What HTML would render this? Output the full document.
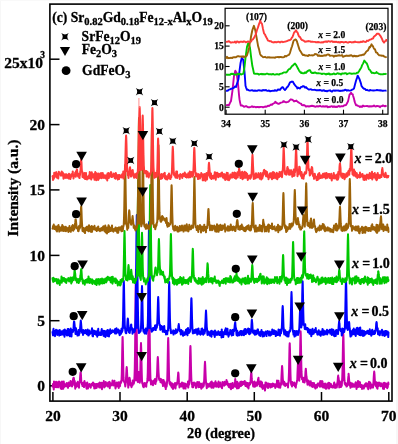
<!DOCTYPE html><html><head><meta charset="utf-8"><style>html,body{margin:0;padding:0;background:#fff;}body{width:398px;height:444px;overflow:hidden;}</style></head><body><svg width="398" height="444" viewBox="0 0 398 444" style="display:block">
<rect x="0" y="0" width="398" height="444" fill="#fff"/>
<rect x="0" y="0" width="1" height="444" fill="#f7f7f7"/><rect x="0" y="0" width="398" height="1" fill="#f9f9f9"/><rect x="396.5" y="0" width="1" height="444" fill="#f0f0f0"/>
<g stroke="#000" stroke-width="1.5">
<line x1="52.9" y1="401" x2="52.9" y2="392"/>
<line x1="120.0" y1="401" x2="120.0" y2="392"/>
<line x1="187.2" y1="401" x2="187.2" y2="392"/>
<line x1="254.3" y1="401" x2="254.3" y2="392"/>
<line x1="321.5" y1="401" x2="321.5" y2="392"/>
<line x1="388.8" y1="401" x2="388.8" y2="392"/>
<line x1="50" y1="385.8" x2="59.5" y2="385.8"/>
<line x1="50" y1="320.7" x2="59.5" y2="320.7"/>
<line x1="50" y1="255.4" x2="59.5" y2="255.4"/>
<line x1="50" y1="189.9" x2="59.5" y2="189.9"/>
<line x1="50" y1="124.6" x2="59.5" y2="124.6"/>
<line x1="50" y1="59.2" x2="59.5" y2="59.2"/>
</g>
<g stroke-width="2.0" stroke-linejoin="round" stroke-linecap="round">
<path fill="#c800aa" stroke="none" d="M72.75,381.2 73.00,379.5 73.25,378.5 73.50,377.8 73.75,377.8 74.00,379.1 74.25,381.2ZM79.75,381.2 80.00,379.3 80.25,375.3 80.50,372.9 80.60,372.3 80.75,372.6 81.00,375.7 81.25,381.2ZM121.25,381.2 121.50,380.6 121.75,374.9 122.00,364.2 122.25,349.0 122.50,338.2 122.60,336.9 122.75,339.8 123.00,352.6 123.25,366.6 123.50,377.4 123.75,380.9 124.00,381.2ZM125.75,381.2 126.00,378.8 126.25,373.6 126.50,368.8 126.70,367.1 126.75,367.2 127.00,370.7 127.25,376.1 127.50,379.1 127.75,381.2ZM129.00,381.2 129.25,379.2 129.50,377.7 129.75,378.7 130.00,380.1 130.25,381.2ZM134.00,381.2 134.25,380.3 134.50,376.2 134.75,369.1 135.00,355.0 135.25,332.9 135.50,305.1 135.75,280.3 136.00,269.9 136.25,280.4 136.50,305.4 136.75,333.1 137.00,355.1 137.25,369.9 137.50,378.0 137.75,381.2ZM138.00,381.2 138.25,378.9 138.50,375.8 138.75,371.9 138.90,372.1 139.00,372.6 139.25,374.4 139.50,379.3 139.75,381.2ZM139.75,381.2 140.00,380.9 140.25,373.6 140.50,361.8 140.75,348.9 141.00,343.0 141.25,349.2 141.50,361.4 141.75,373.0 142.00,381.2ZM147.25,381.2 147.50,378.7 147.75,373.1 148.00,359.9 148.25,337.8 148.50,308.3 148.75,280.2 149.00,268.0 149.25,280.1 149.50,308.3 149.75,337.9 150.00,360.0 150.25,372.2 150.50,379.5 150.75,381.2ZM156.75,375.6 157.00,375.2 157.25,368.7 157.50,361.5 157.75,357.4 157.80,357.0 158.00,358.9 158.25,365.1 158.50,371.9 158.75,375.1 159.00,375.2ZM167.00,381.2 167.25,379.3 167.50,369.7 167.75,355.6 168.00,342.4 168.20,338.0 168.25,338.3 168.50,347.3 168.75,361.5 169.00,373.5 169.25,380.8 169.50,381.2ZM177.50,381.2 177.75,378.4 178.00,375.6 178.25,372.4 178.30,373.0 178.50,373.5 178.75,378.7 179.00,381.2ZM189.00,381.2 189.25,381.0 189.50,378.5 189.75,369.9 190.00,358.3 190.25,348.0 190.40,346.0 190.50,346.6 190.75,355.7 191.00,367.9 191.25,376.2 191.50,381.2ZM204.00,381.2 204.25,378.9 204.50,372.3 204.75,365.3 205.00,361.8 205.25,365.7 205.50,372.5 205.75,378.5 206.00,381.2ZM235.00,381.2 235.20,380.1 235.25,379.1 235.50,381.2ZM250.50,381.2 250.75,378.2 251.00,374.2 251.25,372.7 251.30,372.4 251.50,373.6 251.75,378.7 252.00,381.2ZM257.75,381.2 258.00,379.5 258.25,379.2 258.30,378.3 258.50,377.7 258.75,381.2ZM281.25,381.2 281.50,376.2 281.75,371.4 282.00,366.7 282.10,366.0 282.25,367.4 282.50,372.3 282.75,378.1 283.00,381.0 283.25,381.2ZM288.50,381.2 288.75,377.8 289.00,371.6 289.25,358.8 289.50,347.0 289.70,343.2 289.75,343.4 290.00,350.9 290.25,364.2 290.50,374.5 290.75,381.0 291.00,381.2ZM297.25,379.4 297.50,372.9 297.75,367.3 298.00,362.1 298.10,361.5 298.25,362.1 298.50,367.4 298.75,374.6 299.00,377.5 299.25,378.1ZM299.25,378.1 299.50,377.7 299.75,371.3 300.00,359.6 300.25,343.9 300.50,332.4 300.60,331.3 300.75,333.7 301.00,347.2 301.25,361.5 301.50,371.9 301.75,375.9 302.00,377.2ZM305.00,377.7 305.25,375.6 305.50,371.4 305.75,369.3 305.80,368.7 306.00,370.6 306.25,374.5 306.50,377.0 306.75,378.1 307.00,378.8ZM337.50,381.2 337.75,380.1 338.00,376.6 338.20,375.6 338.25,377.0 338.50,377.5 338.75,379.4 339.00,381.2ZM342.00,381.2 342.25,377.6 342.50,369.7 342.75,356.8 343.00,342.3 343.25,334.4 343.30,334.0 343.50,338.1 343.75,351.0 344.00,364.8 344.25,375.7 344.50,380.7 344.75,381.2ZM347.75,381.2 348.00,380.6 348.25,377.7 348.50,375.4 348.60,373.8 348.75,375.3 349.00,378.3 349.25,381.2ZM373.50,381.2 373.75,376.8 374.00,373.6 374.20,371.6 374.25,372.5 374.50,374.4 374.75,379.1 375.00,381.2Z"/>
<polyline fill="none" stroke="#c800aa" points="52.50,386.5 52.75,386.0 53.00,384.0 53.25,384.3 53.50,386.7 53.75,389.5 54.00,381.5 54.25,386.7 54.50,385.0 54.75,386.7 55.00,386.9 55.25,385.3 55.50,383.3 55.75,382.6 56.00,381.7 56.25,387.2 56.50,384.6 56.75,383.9 57.00,384.4 57.25,382.4 57.50,385.4 57.75,387.2 58.00,386.8 58.25,382.0 58.50,387.3 58.75,383.5 59.00,381.5 59.25,382.7 59.50,383.3 59.75,385.0 60.00,383.2 60.25,382.4 60.50,384.6 60.75,388.6 61.00,383.8 61.25,385.9 61.50,385.1 61.75,388.9 62.00,381.5 62.25,386.8 62.50,382.5 62.75,383.8 63.00,384.7 63.25,388.8 63.50,383.5 63.75,381.5 64.00,387.3 64.25,383.5 64.50,384.6 64.75,385.0 65.00,385.2 65.25,384.7 65.50,385.5 65.75,385.7 66.00,386.5 66.25,384.2 66.50,383.6 66.75,383.0 67.00,385.9 67.25,384.7 67.50,385.8 67.75,385.7 68.00,387.8 68.25,385.1 68.50,386.1 68.75,382.6 69.00,382.9 69.25,384.3 69.50,382.7 69.75,386.1 70.00,382.5 70.25,385.0 70.50,381.0 70.75,383.0 71.00,384.3 71.25,384.4 71.50,381.7 71.75,385.0 72.00,386.4 72.25,385.6 72.50,383.0 72.75,382.0 73.00,379.5 73.25,378.5 73.50,377.8 73.75,377.8 74.00,379.1 74.25,383.0 74.50,385.1 74.75,381.1 75.00,385.1 75.25,388.7 75.50,386.4 75.75,386.0 76.00,385.7 76.25,386.9 76.50,383.3 76.75,383.5 77.00,385.7 77.25,383.8 77.50,385.5 77.75,381.7 78.00,386.4 78.25,386.5 78.50,385.1 78.75,385.3 79.00,387.7 79.25,383.0 79.50,382.8 79.75,381.4 80.00,379.3 80.25,375.3 80.50,372.9 80.60,372.3 80.75,372.6 81.00,375.7 81.25,381.2 81.50,382.8 81.75,383.7 82.00,384.6 82.25,384.5 82.50,386.0 82.75,385.7 83.00,383.7 83.25,383.2 83.50,382.7 83.75,382.4 84.00,387.1 84.25,383.0 84.50,381.0 84.75,383.0 85.00,383.1 85.25,385.1 85.50,382.9 85.75,385.5 86.00,385.2 86.25,386.8 86.50,388.4 86.75,388.6 87.00,387.1 87.25,382.6 87.50,384.0 87.75,385.2 88.00,388.4 88.25,386.0 88.50,386.9 88.75,384.4 89.00,385.8 89.25,386.0 89.50,383.9 89.75,386.1 90.00,386.6 90.25,384.4 90.50,386.5 90.75,387.7 91.00,384.9 91.25,384.8 91.50,384.3 91.75,383.8 92.00,385.3 92.25,384.3 92.50,384.6 92.75,383.8 93.00,382.5 93.25,383.7 93.50,386.0 93.75,383.3 94.00,384.3 94.25,388.4 94.50,387.4 94.75,384.2 95.00,386.5 95.25,384.2 95.50,388.3 95.75,384.3 96.00,385.5 96.25,387.9 96.50,383.9 96.75,387.7 97.00,383.9 97.25,385.8 97.50,384.8 97.75,385.2 98.00,385.6 98.25,385.1 98.50,383.4 98.75,386.7 99.00,386.4 99.25,387.4 99.50,387.5 99.75,382.6 100.00,387.3 100.25,387.3 100.50,384.1 100.75,386.9 101.00,387.7 101.25,384.2 101.50,382.7 101.75,384.6 102.00,389.2 102.25,385.7 102.50,383.1 102.75,384.8 103.00,383.4 103.25,384.4 103.50,385.3 103.75,381.1 104.00,385.6 104.25,387.4 104.50,384.5 104.75,384.1 105.00,386.6 105.25,382.4 105.50,382.3 105.75,382.0 106.00,384.2 106.25,385.2 106.50,384.3 106.75,385.4 107.00,385.9 107.25,385.3 107.50,382.9 107.75,383.9 108.00,386.6 108.25,382.4 108.50,383.9 108.75,383.5 109.00,383.9 109.25,382.3 109.50,381.8 109.75,388.2 110.00,385.9 110.25,383.0 110.50,384.2 110.75,385.5 111.00,383.7 111.25,385.4 111.50,383.2 111.75,383.7 112.00,384.3 112.25,383.6 112.50,380.5 112.75,384.6 113.00,385.0 113.25,385.4 113.50,382.9 113.75,385.3 114.00,385.0 114.25,381.5 114.50,380.8 114.75,385.5 115.00,383.0 115.25,386.4 115.50,388.4 115.75,383.6 116.00,383.3 116.25,384.5 116.50,385.7 116.75,382.4 117.00,386.5 117.25,386.1 117.50,385.4 117.75,383.3 118.00,385.9 118.25,385.7 118.50,382.2 118.75,387.9 119.00,383.8 119.25,384.9 119.50,383.4 119.75,385.0 120.00,386.2 120.25,383.0 120.50,381.6 120.75,383.4 121.00,382.0 121.25,382.1 121.50,380.6 121.75,374.9 122.00,364.2 122.25,349.0 122.50,338.2 122.60,336.9 122.75,339.8 123.00,352.6 123.25,366.6 123.50,377.4 123.75,380.9 124.00,381.3 124.25,382.2 124.50,382.0 124.75,383.1 125.00,384.3 125.25,386.5 125.50,385.1 125.75,383.0 126.00,378.8 126.25,373.6 126.50,368.8 126.70,367.1 126.75,367.2 127.00,370.7 127.25,376.1 127.50,379.1 127.75,382.0 128.00,383.3 128.25,387.6 128.50,383.8 128.75,383.9 129.00,382.5 129.25,379.2 129.50,377.7 129.75,378.7 130.00,380.1 130.25,383.2 130.50,385.5 130.75,385.2 131.00,385.4 131.25,385.2 131.50,387.2 131.75,382.9 132.00,384.1 132.25,384.8 132.50,385.5 132.75,380.4 133.00,382.8 133.25,383.1 133.50,381.9 133.75,383.8 134.00,382.4 134.25,380.3 134.50,376.2 134.75,369.1 135.00,355.0 135.25,332.9 135.50,305.1 135.75,280.3 136.00,269.9 136.25,280.4 136.50,305.4 136.75,333.1 137.00,355.1 137.25,369.9 137.50,378.0 137.75,381.8 138.00,382.1 138.25,378.9 138.50,375.8 138.75,371.9 138.90,372.1 139.00,372.6 139.25,374.4 139.50,379.3 139.75,382.8 140.00,380.9 140.25,373.6 140.50,361.8 140.75,348.9 141.00,343.0 141.25,349.2 141.50,361.4 141.75,373.0 142.00,381.2 142.25,383.3 142.50,382.4 142.75,384.3 143.00,386.0 143.25,384.8 143.50,387.1 143.75,387.3 144.00,384.1 144.25,384.2 144.50,384.8 144.75,383.0 145.00,385.5 145.25,384.5 145.50,385.9 145.75,383.7 146.00,383.2 146.25,386.8 146.50,382.9 146.75,383.0 147.00,382.3 147.25,381.7 147.50,378.7 147.75,373.1 148.00,359.9 148.25,337.8 148.50,308.3 148.75,280.2 149.00,268.0 149.25,280.1 149.50,308.3 149.75,337.9 150.00,360.0 150.25,372.2 150.50,379.5 150.75,381.4 151.00,384.5 151.25,383.6 151.50,381.4 151.75,380.9 152.00,384.3 152.25,381.2 152.50,383.3 152.75,381.7 153.00,385.2 153.25,381.8 153.50,383.9 153.75,383.4 154.00,380.3 154.25,380.3 154.50,383.1 154.75,380.5 155.00,378.9 155.25,382.3 155.50,383.9 155.75,379.9 156.00,382.0 156.25,379.2 156.50,380.8 156.75,377.2 157.00,375.2 157.25,368.7 157.50,361.5 157.75,357.4 157.80,357.0 158.00,358.9 158.25,365.1 158.50,371.9 158.75,375.1 159.00,378.8 159.25,379.8 159.50,380.1 159.75,378.7 160.00,379.7 160.25,379.7 160.50,382.2 160.75,378.7 161.00,379.6 161.25,380.1 161.50,380.5 161.75,379.7 162.00,380.2 162.25,383.4 162.50,380.8 162.75,383.8 163.00,386.1 163.25,385.0 163.50,379.9 163.75,384.7 164.00,384.5 164.25,384.9 164.50,381.5 164.75,385.9 165.00,383.0 165.25,387.3 165.50,387.1 165.75,389.1 166.00,385.1 166.25,383.2 166.50,386.7 166.75,385.7 167.00,382.4 167.25,379.3 167.50,369.7 167.75,355.6 168.00,342.4 168.20,338.0 168.25,338.3 168.50,347.3 168.75,361.5 169.00,373.5 169.25,380.8 169.50,383.1 169.75,383.9 170.00,384.3 170.25,384.9 170.50,382.2 170.75,385.7 171.00,383.9 171.25,385.9 171.50,383.3 171.75,387.5 172.00,386.3 172.25,383.6 172.50,386.3 172.75,384.5 173.00,388.9 173.25,386.6 173.50,384.2 173.75,385.9 174.00,385.3 174.25,387.4 174.50,385.8 174.75,386.0 175.00,383.0 175.25,386.3 175.50,388.5 175.75,385.9 176.00,384.7 176.25,385.0 176.50,383.0 176.75,384.8 177.00,382.6 177.25,383.7 177.50,381.6 177.75,378.4 178.00,375.6 178.25,372.4 178.30,373.0 178.50,373.5 178.75,378.7 179.00,382.9 179.25,384.5 179.50,387.4 179.75,386.0 180.00,386.1 180.25,384.5 180.50,383.8 180.75,385.6 181.00,384.4 181.25,384.6 181.50,386.6 181.75,385.1 182.00,382.5 182.25,384.8 182.50,383.8 182.75,384.6 183.00,383.2 183.25,387.3 183.50,388.6 183.75,383.3 184.00,386.5 184.25,386.5 184.50,383.6 184.75,385.8 185.00,388.2 185.25,387.2 185.50,388.6 185.75,383.7 186.00,384.5 186.25,386.3 186.50,386.3 186.75,385.7 187.00,384.9 187.25,384.8 187.50,384.3 187.75,386.0 188.00,381.4 188.25,387.6 188.50,384.1 188.75,382.5 189.00,384.8 189.25,381.0 189.50,378.5 189.75,369.9 190.00,358.3 190.25,348.0 190.40,346.0 190.50,346.6 190.75,355.7 191.00,367.9 191.25,376.2 191.50,382.6 191.75,384.2 192.00,382.8 192.25,386.9 192.50,387.3 192.75,383.0 193.00,386.1 193.25,387.2 193.50,386.5 193.75,383.3 194.00,382.5 194.25,384.6 194.50,383.8 194.75,384.6 195.00,384.3 195.25,385.3 195.50,383.3 195.75,383.9 196.00,388.0 196.25,383.8 196.50,385.2 196.75,384.3 197.00,384.1 197.25,382.0 197.50,384.5 197.75,383.4 198.00,385.0 198.25,387.2 198.50,384.0 198.75,385.1 199.00,382.1 199.25,384.3 199.50,387.0 199.75,384.3 200.00,383.5 200.25,385.1 200.50,384.6 200.75,384.6 201.00,384.5 201.25,388.7 201.50,383.8 201.75,384.6 202.00,384.4 202.25,387.5 202.50,384.8 202.75,387.4 203.00,385.5 203.25,385.1 203.50,382.6 203.75,385.9 204.00,383.1 204.25,378.9 204.50,372.3 204.75,365.3 205.00,361.8 205.25,365.7 205.50,372.5 205.75,378.5 206.00,382.1 206.25,384.7 206.50,385.2 206.75,388.2 207.00,386.9 207.25,384.7 207.50,383.8 207.75,385.3 208.00,384.1 208.25,385.7 208.50,386.2 208.75,386.6 209.00,386.1 209.25,385.0 209.50,386.3 209.75,383.6 210.00,384.9 210.25,386.4 210.50,385.4 210.75,382.5 211.00,382.6 211.25,381.7 211.50,387.7 211.75,381.6 212.00,384.0 212.25,387.4 212.50,386.0 212.75,386.4 213.00,383.0 213.25,385.2 213.50,387.8 213.75,383.7 214.00,384.5 214.25,383.2 214.50,383.7 214.75,384.4 215.00,386.3 215.25,382.2 215.50,381.3 215.75,384.0 216.00,384.4 216.25,386.7 216.50,385.5 216.75,383.2 217.00,385.4 217.25,386.5 217.50,385.1 217.75,384.1 218.00,386.0 218.25,384.2 218.50,381.5 218.75,387.3 219.00,382.6 219.25,384.4 219.50,384.5 219.75,384.5 220.00,384.6 220.25,382.6 220.50,386.1 220.75,385.2 221.00,385.2 221.25,387.1 221.50,387.1 221.75,387.5 222.00,388.3 222.25,385.8 222.50,382.1 222.75,385.2 223.00,384.7 223.25,384.7 223.50,383.3 223.75,382.7 224.00,385.5 224.25,385.7 224.50,381.8 224.75,384.7 225.00,383.3 225.25,382.8 225.50,384.7 225.75,383.3 226.00,382.4 226.25,383.6 226.50,380.0 226.75,382.7 227.00,383.1 227.25,381.6 227.50,384.6 227.75,385.0 228.00,383.6 228.25,384.6 228.50,386.2 228.75,387.1 229.00,384.0 229.25,386.0 229.50,387.4 229.75,385.5 230.00,384.2 230.25,384.3 230.50,385.1 230.75,383.8 231.00,389.2 231.25,384.5 231.50,386.2 231.75,385.8 232.00,386.6 232.25,384.7 232.50,383.0 232.75,388.1 233.00,385.0 233.25,385.3 233.50,385.3 233.75,387.1 234.00,386.0 234.25,386.1 234.50,384.6 234.75,382.5 235.00,381.4 235.20,380.1 235.25,379.1 235.50,381.3 235.75,381.5 236.00,387.0 236.25,386.9 236.50,386.6 236.75,383.8 237.00,388.4 237.25,381.8 237.50,382.7 237.75,383.4 238.00,383.1 238.25,385.1 238.50,385.1 238.75,388.2 239.00,386.6 239.25,387.0 239.50,385.5 239.75,384.5 240.00,383.5 240.25,382.0 240.50,383.1 240.75,384.0 241.00,386.0 241.25,381.6 241.50,382.1 241.75,384.9 242.00,382.6 242.25,385.0 242.50,383.6 242.75,382.9 243.00,381.8 243.25,383.9 243.50,382.7 243.75,382.9 244.00,382.8 244.25,384.2 244.50,384.2 244.75,380.9 245.00,383.7 245.25,384.8 245.50,386.0 245.75,385.7 246.00,384.8 246.25,382.4 246.50,383.2 246.75,386.3 247.00,383.5 247.25,386.6 247.50,387.1 247.75,383.0 248.00,385.7 248.25,384.7 248.50,388.4 248.75,386.2 249.00,383.8 249.25,385.3 249.50,382.9 249.75,384.1 250.00,384.4 250.25,383.6 250.50,382.1 250.75,378.2 251.00,374.2 251.25,372.7 251.30,372.4 251.50,373.6 251.75,378.7 252.00,381.8 252.25,382.8 252.50,381.8 252.75,382.2 253.00,385.1 253.25,386.5 253.50,384.2 253.75,384.9 254.00,385.2 254.25,386.7 254.50,381.5 254.75,385.1 255.00,385.6 255.25,386.6 255.50,385.7 255.75,383.1 256.00,384.0 256.25,382.4 256.50,385.4 256.75,385.3 257.00,385.7 257.25,383.0 257.50,382.0 257.75,383.0 258.00,379.5 258.25,379.2 258.30,378.3 258.50,377.7 258.75,381.4 259.00,384.2 259.25,383.5 259.50,381.7 259.75,386.2 260.00,384.9 260.25,385.7 260.50,381.4 260.75,386.2 261.00,381.5 261.25,383.9 261.50,387.1 261.75,382.3 262.00,382.4 262.25,385.0 262.50,388.8 262.75,388.9 263.00,385.0 263.25,388.0 263.50,387.4 263.75,386.9 264.00,387.1 264.25,385.2 264.50,388.0 264.75,388.5 265.00,390.6 265.25,388.2 265.50,382.5 265.75,384.2 266.00,386.9 266.25,386.3 266.50,382.7 266.75,385.7 267.00,385.2 267.25,385.6 267.50,385.4 267.75,387.2 268.00,388.1 268.25,386.6 268.50,383.4 268.75,383.8 269.00,384.2 269.25,385.3 269.50,384.7 269.75,384.9 270.00,384.0 270.25,387.4 270.50,387.3 270.75,387.5 271.00,385.7 271.25,386.7 271.50,384.2 271.75,384.1 272.00,384.9 272.25,386.8 272.50,385.4 272.75,383.5 273.00,385.6 273.25,386.1 273.50,385.5 273.75,383.9 274.00,385.1 274.25,384.2 274.50,384.2 274.75,384.6 275.00,386.0 275.25,387.9 275.50,387.4 275.75,385.7 276.00,383.9 276.25,384.0 276.50,384.1 276.75,386.6 277.00,380.6 277.25,385.1 277.50,381.1 277.75,384.6 278.00,387.0 278.25,383.1 278.50,380.8 278.75,387.1 279.00,387.5 279.25,385.7 279.50,387.0 279.75,383.5 280.00,386.8 280.25,387.7 280.50,385.7 280.75,384.8 281.00,385.0 281.25,382.1 281.50,376.2 281.75,371.4 282.00,366.7 282.10,366.0 282.25,367.4 282.50,372.3 282.75,378.1 283.00,381.0 283.25,384.5 283.50,382.4 283.75,384.2 284.00,381.7 284.25,381.7 284.50,385.5 284.75,384.7 285.00,385.1 285.25,386.0 285.50,385.6 285.75,383.5 286.00,385.2 286.25,385.0 286.50,384.2 286.75,384.8 287.00,384.4 287.25,383.9 287.50,384.3 287.75,385.1 288.00,387.5 288.25,382.9 288.50,383.1 288.75,377.8 289.00,371.6 289.25,358.8 289.50,347.0 289.70,343.2 289.75,343.4 290.00,350.9 290.25,364.2 290.50,374.5 290.75,381.0 291.00,383.1 291.25,384.8 291.50,384.6 291.75,384.1 292.00,386.4 292.25,382.1 292.50,384.0 292.75,383.3 293.00,384.8 293.25,384.4 293.50,385.0 293.75,384.5 294.00,384.6 294.25,382.6 294.50,385.4 294.75,386.1 295.00,384.5 295.25,384.1 295.50,383.9 295.75,387.6 296.00,384.7 296.25,384.7 296.50,383.2 296.75,382.3 297.00,380.6 297.25,380.2 297.50,372.9 297.75,367.3 298.00,362.1 298.10,361.5 298.25,362.1 298.50,367.4 298.75,374.6 299.00,377.5 299.25,380.7 299.50,377.7 299.75,371.3 300.00,359.6 300.25,343.9 300.50,332.4 300.60,331.3 300.75,333.7 301.00,347.2 301.25,361.5 301.50,371.9 301.75,375.9 302.00,379.2 302.25,378.3 302.50,379.3 302.75,378.1 303.00,382.0 303.25,377.7 303.50,381.3 303.75,381.2 304.00,381.8 304.25,379.5 304.50,382.6 304.75,381.7 305.00,378.8 305.25,375.6 305.50,371.4 305.75,369.3 305.80,368.7 306.00,370.6 306.25,374.5 306.50,377.0 306.75,378.1 307.00,381.8 307.25,382.2 307.50,384.7 307.75,382.9 308.00,382.0 308.25,380.6 308.50,382.9 308.75,382.1 309.00,381.3 309.25,383.2 309.50,385.5 309.75,383.9 310.00,382.1 310.25,384.6 310.50,382.1 310.75,381.2 311.00,385.0 311.25,383.2 311.50,386.3 311.75,384.9 312.00,383.0 312.25,385.0 312.50,387.0 312.75,384.5 313.00,383.0 313.25,383.9 313.50,383.7 313.75,383.2 314.00,383.1 314.25,386.2 314.50,387.5 314.75,384.9 315.00,387.0 315.25,387.2 315.50,388.6 315.75,385.2 316.00,384.9 316.25,386.2 316.50,385.6 316.75,385.9 317.00,387.6 317.25,384.5 317.50,385.6 317.75,383.4 318.00,384.9 318.25,383.9 318.50,383.8 318.75,384.7 319.00,384.3 319.25,385.8 319.50,386.5 319.75,382.4 320.00,386.8 320.25,381.0 320.50,385.4 320.75,386.2 321.00,383.8 321.25,384.5 321.50,383.5 321.75,386.5 322.00,380.9 322.25,383.2 322.50,381.5 322.75,385.4 323.00,387.4 323.25,387.3 323.50,386.5 323.75,385.8 324.00,384.1 324.25,387.7 324.50,386.7 324.75,384.2 325.00,383.5 325.25,384.7 325.50,387.8 325.75,388.2 326.00,388.8 326.25,384.6 326.50,385.3 326.75,388.4 327.00,386.3 327.25,387.3 327.50,383.5 327.75,385.2 328.00,385.8 328.25,385.1 328.50,385.0 328.75,382.7 329.00,388.6 329.25,385.9 329.50,383.0 329.75,387.5 330.00,385.7 330.25,386.8 330.50,385.2 330.75,384.1 331.00,384.1 331.25,386.1 331.50,386.9 331.75,386.4 332.00,386.6 332.25,387.6 332.50,386.0 332.75,387.2 333.00,387.4 333.25,385.9 333.50,385.3 333.75,384.6 334.00,383.2 334.25,382.5 334.50,387.6 334.75,385.2 335.00,384.2 335.25,387.9 335.50,386.7 335.75,385.0 336.00,386.6 336.25,384.4 336.50,385.2 336.75,387.5 337.00,385.8 337.25,383.0 337.50,382.5 337.75,380.1 338.00,376.6 338.20,375.6 338.25,377.0 338.50,377.5 338.75,379.4 339.00,383.0 339.25,387.4 339.50,385.9 339.75,386.7 340.00,381.5 340.25,384.2 340.50,387.1 340.75,384.4 341.00,387.0 341.25,385.5 341.50,385.0 341.75,385.9 342.00,381.6 342.25,377.6 342.50,369.7 342.75,356.8 343.00,342.3 343.25,334.4 343.30,334.0 343.50,338.1 343.75,351.0 344.00,364.8 344.25,375.7 344.50,380.7 344.75,383.9 345.00,382.7 345.25,383.9 345.50,385.1 345.75,383.1 346.00,383.6 346.25,384.6 346.50,386.6 346.75,386.0 347.00,386.3 347.25,385.0 347.50,385.3 347.75,384.6 348.00,380.6 348.25,377.7 348.50,375.4 348.60,373.8 348.75,375.3 349.00,378.3 349.25,381.7 349.50,382.7 349.75,385.6 350.00,383.5 350.25,384.5 350.50,387.8 350.75,382.7 351.00,385.0 351.25,385.0 351.50,385.3 351.75,384.6 352.00,386.8 352.25,383.8 352.50,383.5 352.75,386.8 353.00,383.9 353.25,386.7 353.50,386.1 353.75,384.8 354.00,385.4 354.25,385.9 354.50,386.8 354.75,384.8 355.00,385.5 355.25,383.2 355.50,385.2 355.75,382.2 356.00,385.4 356.25,384.6 356.50,389.0 356.75,387.5 357.00,384.9 357.25,386.8 357.50,385.5 357.75,382.9 358.00,380.9 358.25,386.9 358.50,385.6 358.75,381.5 359.00,386.1 359.25,386.7 359.50,383.9 359.75,386.6 360.00,382.2 360.25,385.1 360.50,385.7 360.75,387.1 361.00,386.6 361.25,386.4 361.50,387.1 361.75,385.0 362.00,388.9 362.25,385.6 362.50,387.7 362.75,386.2 363.00,385.8 363.25,387.2 363.50,386.9 363.75,388.5 364.00,387.9 364.25,385.0 364.50,386.8 364.75,386.1 365.00,384.4 365.25,383.9 365.50,386.3 365.75,384.8 366.00,383.3 366.25,385.5 366.50,386.0 366.75,385.8 367.00,383.4 367.25,384.4 367.50,387.8 367.75,384.0 368.00,384.7 368.25,389.2 368.50,385.8 368.75,384.3 369.00,381.7 369.25,385.8 369.50,382.8 369.75,385.3 370.00,383.9 370.25,382.5 370.50,388.5 370.75,385.5 371.00,387.4 371.25,387.1 371.50,384.6 371.75,386.0 372.00,385.3 372.25,387.5 372.50,386.5 372.75,385.1 373.00,387.6 373.25,384.5 373.50,381.6 373.75,376.8 374.00,373.6 374.20,371.6 374.25,372.5 374.50,374.4 374.75,379.1 375.00,382.1 375.25,384.7 375.50,385.9 375.75,385.5 376.00,385.6 376.25,383.1 376.50,382.3 376.75,387.8 377.00,386.5 377.25,382.8 377.50,388.7 377.75,383.9 378.00,386.0 378.25,385.8 378.50,385.2 378.75,386.0 379.00,382.4 379.25,384.8 379.50,384.3 379.75,384.9 380.00,384.2 380.25,383.6 380.50,383.4 380.75,386.3 381.00,383.3 381.25,385.5 381.50,385.5 381.75,384.8 382.00,385.8 382.25,386.1 382.50,384.2 382.75,385.8 383.00,388.7 383.25,383.3 383.50,384.7 383.75,383.9 384.00,388.9 384.25,382.8 384.50,385.4 384.75,387.1 385.00,383.9 385.25,385.3 385.50,384.4 385.75,383.3 386.00,385.6 386.25,386.7 386.50,385.2 386.75,386.3 387.00,387.2 387.25,388.2 387.50,383.8 387.75,387.1 388.00,384.9 388.25,382.5 388.50,384.4"/>
<path fill="#0000ff" stroke="none" d="M73.50,328.8 73.75,324.2 74.00,321.5 74.10,321.5 74.25,321.8 74.50,324.2 74.75,326.6 75.00,328.8ZM80.00,328.8 80.25,326.7 80.50,323.7 80.75,320.5 80.80,320.8 81.00,322.1 81.25,325.4 81.50,328.6 81.75,328.8ZM122.50,328.8 122.75,326.1 123.00,319.8 123.25,306.7 123.50,291.1 123.75,281.4 123.80,281.0 124.00,285.7 124.25,300.7 124.50,315.5 124.75,324.8 125.00,327.6 125.25,328.8ZM127.00,328.8 127.25,325.4 127.50,321.1 127.75,318.5 127.80,318.5 128.00,319.2 128.25,323.6 128.50,326.9 128.75,328.8ZM130.25,328.8 130.50,328.5 130.75,326.2 131.00,324.8 131.25,324.5 131.50,328.6 131.75,328.8ZM135.00,328.8 135.25,325.1 135.50,318.7 135.75,305.9 136.00,284.5 136.25,256.8 136.50,230.0 136.75,215.5 136.80,215.0 137.00,222.0 137.25,245.3 137.50,273.9 137.75,298.1 138.00,314.1 138.25,323.6 138.50,327.8 138.75,328.8ZM140.75,328.8 141.00,327.0 141.25,319.9 141.50,306.5 141.75,292.3 142.00,286.0 142.25,292.4 142.50,306.5 142.75,319.5 143.00,326.0 143.25,328.8ZM147.25,328.8 147.50,327.0 147.75,324.7 148.00,314.6 148.25,297.8 148.50,271.8 148.75,243.3 149.00,223.9 149.10,222.0 149.25,226.3 149.50,248.7 149.75,277.4 150.00,301.9 150.25,317.4 150.50,324.6 150.75,328.1 151.00,328.7 151.25,328.5ZM157.00,324.0 157.25,322.9 157.50,317.6 157.75,308.8 158.00,300.1 158.20,297.1 158.25,297.7 158.50,303.0 158.75,313.1 159.00,320.3 159.25,323.1 159.50,323.9ZM168.00,328.8 168.25,326.0 168.50,315.4 168.75,301.2 169.00,286.8 169.20,282.0 169.25,282.3 169.50,292.1 169.75,307.4 170.00,320.2 170.25,325.9 170.50,328.8ZM178.00,328.8 178.25,328.3 178.50,325.4 178.70,325.2 178.75,324.0 179.00,326.6 179.25,328.6 179.50,328.8ZM190.25,328.8 190.50,326.2 190.75,319.5 191.00,309.0 191.25,299.8 191.40,298.2 191.50,298.7 191.75,306.8 192.00,317.5 192.25,324.4 192.50,328.8ZM205.00,328.8 205.25,325.4 205.50,320.8 205.75,314.3 206.00,310.6 206.25,314.5 206.50,320.1 206.75,326.8 207.00,328.8ZM234.25,328.8 234.50,328.0 234.75,325.1 235.00,323.0 235.20,322.7 235.25,322.2 235.50,325.8 235.75,328.8 236.00,328.2 236.25,328.8ZM251.25,328.8 251.50,324.3 251.75,320.1 251.90,319.9 252.00,321.1 252.25,323.4 252.50,327.8 252.75,328.8ZM281.50,328.8 281.75,328.7 282.00,323.7 282.25,315.6 282.50,308.0 282.70,306.1 282.75,306.2 283.00,311.2 283.25,319.6 283.50,326.8 283.75,328.7 284.00,328.8ZM290.25,328.8 290.50,328.0 290.75,321.1 291.00,310.3 291.25,298.1 291.50,292.1 291.75,297.8 292.00,309.6 292.25,321.4 292.50,328.6 292.75,328.8ZM299.25,327.7 299.50,323.6 299.75,316.7 300.00,310.8 300.20,307.6 300.25,308.1 300.50,312.1 300.75,318.2 301.00,324.2 301.25,326.1ZM301.25,326.1 301.50,325.8 301.75,319.1 302.00,308.7 302.25,293.8 302.50,282.8 302.60,281.2 302.75,283.9 303.00,296.2 303.25,310.6 303.50,319.7 303.75,324.3 304.00,324.9ZM338.25,328.8 338.50,328.5 338.75,325.2 339.00,322.6 339.20,320.9 339.25,322.5 339.50,323.4 339.75,328.2 340.00,328.8ZM344.75,328.8 345.00,322.9 345.25,313.4 345.50,300.3 345.75,286.4 346.00,280.0 346.25,286.3 346.50,300.1 346.75,314.5 347.00,322.5 347.25,328.8ZM348.00,328.8 348.25,328.3 348.50,327.5 348.75,322.7 349.00,322.0 349.25,323.0 349.50,327.4 349.75,328.2 350.00,328.8ZM357.00,328.8 357.25,327.8 357.50,327.9 357.75,328.8ZM375.75,328.8 376.00,327.6 376.25,323.4 376.50,322.1 376.75,322.9 377.00,327.1 377.25,327.5 377.50,328.8Z"/>
<polyline fill="none" stroke="#0000ff" points="52.50,332.0 52.75,333.6 53.00,335.3 53.25,330.4 53.50,328.8 53.75,335.2 54.00,333.1 54.25,334.4 54.50,332.3 54.75,335.6 55.00,336.1 55.25,330.7 55.50,334.0 55.75,331.7 56.00,329.8 56.25,332.2 56.50,333.8 56.75,330.3 57.00,330.4 57.25,335.0 57.50,332.8 57.75,333.4 58.00,330.6 58.25,331.5 58.50,332.9 58.75,333.0 59.00,332.9 59.25,335.6 59.50,333.0 59.75,329.9 60.00,331.1 60.25,332.6 60.50,335.1 60.75,331.5 61.00,332.1 61.25,332.7 61.50,331.5 61.75,331.3 62.00,332.4 62.25,334.6 62.50,333.7 62.75,332.3 63.00,333.5 63.25,330.5 63.50,334.7 63.75,334.3 64.00,333.5 64.25,330.1 64.50,336.8 64.75,329.4 65.00,331.4 65.25,331.6 65.50,334.5 65.75,330.6 66.00,333.7 66.25,333.0 66.50,332.7 66.75,334.7 67.00,335.6 67.25,333.6 67.50,332.3 67.75,328.9 68.00,335.2 68.25,331.9 68.50,329.0 68.75,332.6 69.00,334.8 69.25,331.9 69.50,330.1 69.75,336.3 70.00,333.3 70.25,332.9 70.50,334.1 70.75,328.6 71.00,332.2 71.25,332.1 71.50,336.4 71.75,331.4 72.00,331.4 72.25,329.9 72.50,330.9 72.75,331.7 73.00,331.9 73.25,329.9 73.50,329.0 73.75,324.2 74.00,321.5 74.10,321.5 74.25,321.8 74.50,324.2 74.75,326.6 75.00,330.7 75.25,330.1 75.50,333.9 75.75,330.6 76.00,328.3 76.25,332.1 76.50,334.0 76.75,331.8 77.00,332.6 77.25,332.7 77.50,335.6 77.75,333.2 78.00,332.7 78.25,331.7 78.50,329.9 78.75,335.3 79.00,334.8 79.25,331.1 79.50,333.5 79.75,332.2 80.00,329.6 80.25,326.7 80.50,323.7 80.75,320.5 80.80,320.8 81.00,322.1 81.25,325.4 81.50,328.6 81.75,331.2 82.00,332.7 82.25,330.7 82.50,332.5 82.75,331.4 83.00,335.0 83.25,329.9 83.50,332.0 83.75,333.7 84.00,331.9 84.25,331.9 84.50,331.5 84.75,333.1 85.00,330.5 85.25,332.5 85.50,332.5 85.75,330.0 86.00,333.2 86.25,331.8 86.50,333.2 86.75,334.2 87.00,333.2 87.25,330.4 87.50,333.1 87.75,329.6 88.00,331.1 88.25,335.5 88.50,332.5 88.75,335.3 89.00,332.1 89.25,332.4 89.50,330.4 89.75,334.1 90.00,332.0 90.25,333.5 90.50,333.1 90.75,333.2 91.00,332.8 91.25,332.2 91.50,332.2 91.75,330.9 92.00,328.3 92.25,333.1 92.50,336.0 92.75,334.2 93.00,336.3 93.25,333.2 93.50,330.6 93.75,330.6 94.00,333.8 94.25,333.1 94.50,332.2 94.75,333.9 95.00,331.0 95.25,333.5 95.50,332.0 95.75,332.8 96.00,334.7 96.25,332.3 96.50,335.1 96.75,335.0 97.00,331.3 97.25,336.7 97.50,330.5 97.75,332.6 98.00,334.1 98.25,328.8 98.50,334.8 98.75,335.0 99.00,332.8 99.25,333.5 99.50,333.4 99.75,332.6 100.00,335.0 100.25,332.4 100.50,332.9 100.75,333.7 101.00,334.5 101.25,334.9 101.50,330.2 101.75,329.1 102.00,332.5 102.25,332.6 102.50,330.7 102.75,333.2 103.00,333.8 103.25,333.4 103.50,335.7 103.75,330.8 104.00,332.8 104.25,336.3 104.50,334.1 104.75,330.9 105.00,333.4 105.25,335.2 105.50,336.9 105.75,334.4 106.00,335.4 106.25,331.3 106.50,332.9 106.75,335.5 107.00,331.5 107.25,333.2 107.50,329.9 107.75,335.9 108.00,333.0 108.25,334.2 108.50,330.5 108.75,330.8 109.00,336.5 109.25,332.5 109.50,332.1 109.75,334.0 110.00,334.0 110.25,329.3 110.50,331.0 110.75,332.7 111.00,332.5 111.25,333.0 111.50,331.4 111.75,331.6 112.00,332.4 112.25,330.7 112.50,330.3 112.75,330.8 113.00,331.8 113.25,331.5 113.50,330.9 113.75,331.3 114.00,331.7 114.25,332.3 114.50,332.4 114.75,329.5 115.00,333.5 115.25,328.9 115.50,332.8 115.75,330.5 116.00,332.7 116.25,333.5 116.50,328.2 116.75,332.6 117.00,331.9 117.25,330.5 117.50,332.0 117.75,330.4 118.00,331.5 118.25,329.4 118.50,332.7 118.75,332.4 119.00,332.8 119.25,330.4 119.50,334.9 119.75,335.2 120.00,331.8 120.25,331.3 120.50,331.3 120.75,333.2 121.00,333.8 121.25,330.8 121.50,328.7 121.75,332.4 122.00,331.4 122.25,331.3 122.50,330.5 122.75,326.1 123.00,319.8 123.25,306.7 123.50,291.1 123.75,281.4 123.80,281.0 124.00,285.7 124.25,300.7 124.50,315.5 124.75,324.8 125.00,327.6 125.25,330.0 125.50,332.0 125.75,333.0 126.00,331.6 126.25,333.3 126.50,331.4 126.75,331.0 127.00,329.9 127.25,325.4 127.50,321.1 127.75,318.5 127.80,318.5 128.00,319.2 128.25,323.6 128.50,326.9 128.75,329.1 129.00,332.3 129.25,331.4 129.50,329.2 129.75,333.0 130.00,330.3 130.25,329.9 130.50,328.5 130.75,326.2 131.00,324.8 131.25,324.5 131.50,328.6 131.75,329.4 132.00,329.2 132.25,328.3 132.50,333.7 132.75,331.8 133.00,331.7 133.25,332.3 133.50,331.2 133.75,329.2 134.00,332.0 134.25,332.1 134.50,331.1 134.75,331.6 135.00,330.3 135.25,325.1 135.50,318.7 135.75,305.9 136.00,284.5 136.25,256.8 136.50,230.0 136.75,215.5 136.80,215.0 137.00,222.0 137.25,245.3 137.50,273.9 137.75,298.1 138.00,314.1 138.25,323.6 138.50,327.8 138.75,331.2 139.00,333.0 139.25,331.7 139.50,332.6 139.75,331.3 140.00,331.0 140.25,331.9 140.50,331.4 140.75,330.7 141.00,327.0 141.25,319.9 141.50,306.5 141.75,292.3 142.00,286.0 142.25,292.4 142.50,306.5 142.75,319.5 143.00,326.0 143.25,329.6 143.50,331.5 143.75,329.8 144.00,331.7 144.25,332.4 144.50,333.0 144.75,333.5 145.00,332.6 145.25,332.4 145.50,329.7 145.75,328.5 146.00,330.3 146.25,333.7 146.50,331.7 146.75,328.5 147.00,330.5 147.25,330.6 147.50,327.0 147.75,324.7 148.00,314.6 148.25,297.8 148.50,271.8 148.75,243.3 149.00,223.9 149.10,222.0 149.25,226.3 149.50,248.7 149.75,277.4 150.00,301.9 150.25,317.4 150.50,324.6 150.75,328.1 151.00,328.7 151.25,329.1 151.50,330.6 151.75,331.8 152.00,331.4 152.25,330.8 152.50,329.0 152.75,330.4 153.00,328.1 153.25,329.5 153.50,330.3 153.75,328.5 154.00,327.9 154.25,327.8 154.50,329.3 154.75,327.6 155.00,325.6 155.25,327.2 155.50,326.0 155.75,330.1 156.00,327.5 156.25,324.9 156.50,327.5 156.75,327.8 157.00,326.2 157.25,322.9 157.50,317.6 157.75,308.8 158.00,300.1 158.20,297.1 158.25,297.7 158.50,303.0 158.75,313.1 159.00,320.3 159.25,323.1 159.50,325.2 159.75,324.7 160.00,325.0 160.25,329.8 160.50,326.8 160.75,328.9 161.00,326.3 161.25,327.8 161.50,326.0 161.75,329.3 162.00,327.4 162.25,327.0 162.50,327.6 162.75,331.8 163.00,328.9 163.25,329.8 163.50,326.4 163.75,327.7 164.00,329.6 164.25,326.1 164.50,332.0 164.75,330.5 165.00,330.4 165.25,330.5 165.50,330.8 165.75,330.8 166.00,334.4 166.25,333.3 166.50,334.3 166.75,331.8 167.00,330.9 167.25,334.3 167.50,330.4 167.75,330.8 168.00,330.6 168.25,326.0 168.50,315.4 168.75,301.2 169.00,286.8 169.20,282.0 169.25,282.3 169.50,292.1 169.75,307.4 170.00,320.2 170.25,325.9 170.50,330.6 170.75,329.2 171.00,333.2 171.25,333.0 171.50,331.5 171.75,332.5 172.00,332.4 172.25,331.9 172.50,332.7 172.75,331.7 173.00,331.1 173.25,330.4 173.50,334.6 173.75,332.0 174.00,331.6 174.25,332.8 174.50,330.9 174.75,330.9 175.00,332.8 175.25,333.5 175.50,332.9 175.75,329.2 176.00,332.0 176.25,332.0 176.50,332.9 176.75,330.6 177.00,330.4 177.25,332.0 177.50,330.5 177.75,329.9 178.00,329.8 178.25,328.3 178.50,325.4 178.70,325.2 178.75,324.0 179.00,326.6 179.25,328.6 179.50,329.5 179.75,331.0 180.00,330.7 180.25,331.9 180.50,331.0 180.75,334.5 181.00,331.7 181.25,329.9 181.50,332.1 181.75,333.2 182.00,332.0 182.25,334.2 182.50,331.2 182.75,331.3 183.00,335.8 183.25,333.0 183.50,334.0 183.75,333.9 184.00,334.1 184.25,333.1 184.50,332.7 184.75,334.9 185.00,332.0 185.25,333.0 185.50,333.8 185.75,331.8 186.00,329.7 186.25,333.1 186.50,334.1 186.75,332.5 187.00,329.1 187.25,333.1 187.50,335.3 187.75,329.3 188.00,328.0 188.25,331.4 188.50,331.9 188.75,333.0 189.00,333.0 189.25,331.8 189.50,332.4 189.75,331.9 190.00,331.2 190.25,329.7 190.50,326.2 190.75,319.5 191.00,309.0 191.25,299.8 191.40,298.2 191.50,298.7 191.75,306.8 192.00,317.5 192.25,324.4 192.50,329.5 192.75,332.8 193.00,333.5 193.25,330.7 193.50,331.3 193.75,330.9 194.00,332.3 194.25,332.5 194.50,329.9 194.75,333.0 195.00,332.6 195.25,332.3 195.50,331.2 195.75,332.0 196.00,329.3 196.25,332.7 196.50,332.7 196.75,332.2 197.00,330.3 197.25,334.6 197.50,334.3 197.75,329.1 198.00,333.1 198.25,332.7 198.50,328.5 198.75,333.4 199.00,333.6 199.25,333.8 199.50,332.9 199.75,331.5 200.00,331.7 200.25,333.5 200.50,334.7 200.75,331.8 201.00,332.1 201.25,333.7 201.50,328.8 201.75,333.2 202.00,332.0 202.25,328.6 202.50,333.7 202.75,330.8 203.00,333.7 203.25,334.7 203.50,330.3 203.75,330.5 204.00,332.5 204.25,329.7 204.50,333.5 204.75,332.1 205.00,331.3 205.25,325.4 205.50,320.8 205.75,314.3 206.00,310.6 206.25,314.5 206.50,320.1 206.75,326.8 207.00,328.9 207.25,332.8 207.50,334.9 207.75,332.5 208.00,332.4 208.25,334.5 208.50,331.6 208.75,332.4 209.00,333.7 209.25,333.0 209.50,335.1 209.75,334.5 210.00,335.8 210.25,332.5 210.50,334.6 210.75,331.3 211.00,334.4 211.25,335.9 211.50,336.8 211.75,330.8 212.00,332.7 212.25,334.3 212.50,331.5 212.75,334.0 213.00,334.0 213.25,332.2 213.50,332.1 213.75,331.5 214.00,333.6 214.25,335.3 214.50,333.6 214.75,337.0 215.00,330.6 215.25,332.3 215.50,334.5 215.75,331.4 216.00,334.0 216.25,334.8 216.50,333.7 216.75,333.0 217.00,335.0 217.25,334.1 217.50,334.6 217.75,334.3 218.00,332.1 218.25,331.3 218.50,332.6 218.75,333.5 219.00,332.9 219.25,334.9 219.50,333.7 219.75,335.0 220.00,333.5 220.25,332.1 220.50,334.9 220.75,334.3 221.00,332.0 221.25,332.8 221.50,337.4 221.75,329.4 222.00,335.5 222.25,333.6 222.50,333.3 222.75,332.9 223.00,332.4 223.25,337.1 223.50,332.3 223.75,332.4 224.00,334.3 224.25,333.4 224.50,332.4 224.75,332.1 225.00,330.1 225.25,334.3 225.50,330.5 225.75,328.2 226.00,334.1 226.25,333.6 226.50,332.9 226.75,331.4 227.00,334.6 227.25,330.6 227.50,328.7 227.75,333.0 228.00,334.3 228.25,334.0 228.50,336.7 228.75,334.5 229.00,332.7 229.25,332.8 229.50,334.7 229.75,333.0 230.00,332.9 230.25,329.9 230.50,332.4 230.75,330.6 231.00,333.2 231.25,332.8 231.50,333.7 231.75,335.5 232.00,331.8 232.25,334.5 232.50,329.9 232.75,332.0 233.00,333.3 233.25,334.9 233.50,329.6 233.75,330.9 234.00,331.4 234.25,330.3 234.50,328.0 234.75,325.1 235.00,323.0 235.20,322.7 235.25,322.2 235.50,325.8 235.75,328.8 236.00,328.2 236.25,331.1 236.50,334.7 236.75,335.3 237.00,335.0 237.25,330.7 237.50,332.7 237.75,335.7 238.00,333.6 238.25,332.6 238.50,334.3 238.75,335.2 239.00,333.7 239.25,333.8 239.50,335.2 239.75,332.3 240.00,331.6 240.25,334.6 240.50,331.0 240.75,334.1 241.00,331.9 241.25,334.7 241.50,331.1 241.75,335.2 242.00,333.7 242.25,332.6 242.50,331.7 242.75,332.9 243.00,331.5 243.25,331.0 243.50,335.0 243.75,334.1 244.00,335.2 244.25,330.5 244.50,329.3 244.75,329.9 245.00,333.8 245.25,334.0 245.50,329.1 245.75,334.1 246.00,331.3 246.25,329.9 246.50,331.8 246.75,332.8 247.00,331.3 247.25,331.3 247.50,330.1 247.75,329.0 248.00,330.8 248.25,328.6 248.50,332.6 248.75,330.1 249.00,333.9 249.25,328.9 249.50,334.2 249.75,330.3 250.00,330.4 250.25,332.5 250.50,333.4 250.75,331.5 251.00,329.9 251.25,329.4 251.50,324.3 251.75,320.1 251.90,319.9 252.00,321.1 252.25,323.4 252.50,327.8 252.75,332.3 253.00,330.9 253.25,333.0 253.50,331.5 253.75,332.7 254.00,333.7 254.25,330.5 254.50,333.1 254.75,333.1 255.00,334.8 255.25,331.9 255.50,330.7 255.75,333.7 256.00,331.1 256.25,333.5 256.50,334.2 256.75,331.7 257.00,333.1 257.25,331.5 257.50,329.4 257.75,330.8 258.00,329.6 258.25,333.4 258.50,331.4 258.75,333.0 259.00,333.1 259.25,335.1 259.50,332.5 259.75,332.4 260.00,334.0 260.25,335.9 260.50,332.9 260.75,333.6 261.00,332.6 261.25,331.6 261.50,330.1 261.75,332.7 262.00,332.4 262.25,332.4 262.50,336.5 262.75,332.3 263.00,333.5 263.25,332.3 263.50,335.0 263.75,332.4 264.00,336.3 264.25,332.4 264.50,334.3 264.75,334.7 265.00,332.4 265.25,334.4 265.50,333.0 265.75,331.5 266.00,331.6 266.25,333.4 266.50,336.1 266.75,332.0 267.00,333.9 267.25,331.6 267.50,333.6 267.75,330.9 268.00,331.9 268.25,333.4 268.50,332.2 268.75,333.2 269.00,335.5 269.25,333.5 269.50,332.5 269.75,331.5 270.00,332.7 270.25,335.6 270.50,333.3 270.75,333.0 271.00,334.4 271.25,334.5 271.50,334.7 271.75,332.1 272.00,331.0 272.25,329.5 272.50,331.2 272.75,331.8 273.00,333.7 273.25,333.0 273.50,331.4 273.75,334.1 274.00,330.3 274.25,330.8 274.50,330.7 274.75,331.0 275.00,332.7 275.25,331.8 275.50,332.1 275.75,336.1 276.00,331.2 276.25,332.1 276.50,333.5 276.75,334.8 277.00,334.9 277.25,333.5 277.50,333.2 277.75,333.3 278.00,335.0 278.25,331.9 278.50,329.5 278.75,333.6 279.00,331.1 279.25,332.9 279.50,335.2 279.75,332.9 280.00,335.7 280.25,329.7 280.50,332.7 280.75,332.8 281.00,333.3 281.25,330.6 281.50,331.1 281.75,328.7 282.00,323.7 282.25,315.6 282.50,308.0 282.70,306.1 282.75,306.2 283.00,311.2 283.25,319.6 283.50,326.8 283.75,328.7 284.00,332.6 284.25,334.4 284.50,334.0 284.75,333.5 285.00,333.8 285.25,330.2 285.50,331.9 285.75,334.6 286.00,335.4 286.25,333.7 286.50,332.1 286.75,332.7 287.00,334.4 287.25,336.4 287.50,334.3 287.75,332.0 288.00,333.9 288.25,333.6 288.50,336.5 288.75,333.7 289.00,332.8 289.25,332.5 289.50,330.6 289.75,330.7 290.00,331.3 290.25,329.9 290.50,328.0 290.75,321.1 291.00,310.3 291.25,298.1 291.50,292.1 291.75,297.8 292.00,309.6 292.25,321.4 292.50,328.6 292.75,330.3 293.00,331.8 293.25,331.7 293.50,334.6 293.75,334.0 294.00,335.0 294.25,330.9 294.50,336.6 294.75,331.4 295.00,331.0 295.25,333.1 295.50,331.7 295.75,335.8 296.00,331.9 296.25,331.4 296.50,334.3 296.75,334.6 297.00,331.0 297.25,331.5 297.50,331.7 297.75,331.9 298.00,335.0 298.25,333.9 298.50,333.1 298.75,332.9 299.00,330.1 299.25,328.8 299.50,323.6 299.75,316.7 300.00,310.8 300.20,307.6 300.25,308.1 300.50,312.1 300.75,318.2 301.00,324.2 301.25,327.5 301.50,325.8 301.75,319.1 302.00,308.7 302.25,293.8 302.50,282.8 302.60,281.2 302.75,283.9 303.00,296.2 303.25,310.6 303.50,319.7 303.75,324.3 304.00,325.1 304.25,325.4 304.50,325.9 304.75,329.0 305.00,326.0 305.25,324.2 305.50,328.5 305.75,327.4 306.00,329.2 306.25,329.4 306.50,328.1 306.75,328.0 307.00,328.0 307.25,329.1 307.50,328.0 307.75,329.9 308.00,332.2 308.25,328.8 308.50,329.1 308.75,329.3 309.00,331.8 309.25,332.1 309.50,333.7 309.75,332.7 310.00,331.9 310.25,332.7 310.50,329.7 310.75,333.2 311.00,332.7 311.25,336.2 311.50,335.0 311.75,331.2 312.00,331.7 312.25,334.1 312.50,328.7 312.75,330.6 313.00,332.7 313.25,333.0 313.50,332.1 313.75,333.7 314.00,331.1 314.25,331.8 314.50,331.2 314.75,329.7 315.00,331.8 315.25,330.8 315.50,332.0 315.75,328.0 316.00,332.2 316.25,331.2 316.50,331.1 316.75,332.3 317.00,331.4 317.25,334.0 317.50,334.6 317.75,333.9 318.00,334.1 318.25,333.0 318.50,332.5 318.75,330.2 319.00,331.8 319.25,334.7 319.50,334.0 319.75,331.8 320.00,332.9 320.25,334.7 320.50,332.6 320.75,335.8 321.00,331.6 321.25,334.4 321.50,334.2 321.75,333.3 322.00,333.5 322.25,333.9 322.50,328.9 322.75,333.7 323.00,334.9 323.25,333.5 323.50,334.7 323.75,330.5 324.00,332.4 324.25,333.0 324.50,331.9 324.75,334.5 325.00,333.2 325.25,331.3 325.50,333.7 325.75,333.7 326.00,331.4 326.25,333.3 326.50,332.8 326.75,332.7 327.00,329.8 327.25,334.4 327.50,333.2 327.75,332.0 328.00,332.6 328.25,332.5 328.50,331.3 328.75,330.8 329.00,332.0 329.25,330.8 329.50,331.0 329.75,329.8 330.00,331.4 330.25,333.7 330.50,332.2 330.75,332.0 331.00,331.3 331.25,331.2 331.50,329.3 331.75,334.9 332.00,330.7 332.25,329.4 332.50,332.9 332.75,332.7 333.00,331.4 333.25,329.8 333.50,330.1 333.75,335.5 334.00,332.6 334.25,331.8 334.50,336.3 334.75,332.1 335.00,331.5 335.25,334.2 335.50,333.8 335.75,335.9 336.00,330.3 336.25,333.5 336.50,329.9 336.75,333.5 337.00,331.4 337.25,331.6 337.50,331.0 337.75,333.4 338.00,334.1 338.25,330.6 338.50,328.5 338.75,325.2 339.00,322.6 339.20,320.9 339.25,322.5 339.50,323.4 339.75,328.2 340.00,329.8 340.25,329.3 340.50,329.3 340.75,331.2 341.00,330.7 341.25,331.5 341.50,329.8 341.75,335.5 342.00,335.2 342.25,328.4 342.50,332.1 342.75,333.2 343.00,330.5 343.25,330.6 343.50,332.6 343.75,331.6 344.00,328.8 344.25,332.0 344.50,329.2 344.75,329.6 345.00,322.9 345.25,313.4 345.50,300.3 345.75,286.4 346.00,280.0 346.25,286.3 346.50,300.1 346.75,314.5 347.00,322.5 347.25,328.9 347.50,328.6 347.75,330.0 348.00,329.0 348.25,328.3 348.50,327.5 348.75,322.7 349.00,322.0 349.25,323.0 349.50,327.4 349.75,328.2 350.00,331.5 350.25,333.8 350.50,336.6 350.75,330.9 351.00,331.5 351.25,333.0 351.50,335.7 351.75,331.2 352.00,334.4 352.25,331.8 352.50,331.0 352.75,329.9 353.00,332.8 353.25,334.2 353.50,332.2 353.75,328.5 354.00,331.2 354.25,333.9 354.50,333.7 354.75,332.6 355.00,334.7 355.25,329.7 355.50,329.7 355.75,336.0 356.00,333.1 356.25,331.5 356.50,330.9 356.75,327.9 357.00,333.2 357.25,327.8 357.50,327.9 357.75,331.3 358.00,334.1 358.25,330.6 358.50,332.0 358.75,330.5 359.00,332.0 359.25,328.2 359.50,335.1 359.75,329.5 360.00,332.3 360.25,327.6 360.50,334.7 360.75,332.3 361.00,335.3 361.25,330.5 361.50,333.7 361.75,331.6 362.00,331.9 362.25,334.5 362.50,330.6 362.75,333.7 363.00,335.9 363.25,335.7 363.50,334.5 363.75,333.3 364.00,330.9 364.25,335.4 364.50,331.6 364.75,335.0 365.00,332.2 365.25,332.8 365.50,332.7 365.75,333.8 366.00,331.8 366.25,332.8 366.50,331.5 366.75,333.4 367.00,332.9 367.25,333.1 367.50,330.8 367.75,333.0 368.00,332.5 368.25,333.5 368.50,332.6 368.75,330.9 369.00,334.1 369.25,331.6 369.50,333.4 369.75,329.2 370.00,334.0 370.25,334.3 370.50,331.5 370.75,334.2 371.00,332.5 371.25,335.7 371.50,334.3 371.75,330.8 372.00,332.6 372.25,329.7 372.50,332.3 372.75,333.8 373.00,334.2 373.25,332.4 373.50,332.0 373.75,332.7 374.00,331.2 374.25,332.8 374.50,334.1 374.75,332.3 375.00,333.3 375.25,330.4 375.50,330.2 375.75,329.5 376.00,327.6 376.25,323.4 376.50,322.1 376.75,322.9 377.00,327.1 377.25,327.5 377.50,331.7 377.75,328.5 378.00,334.2 378.25,333.1 378.50,334.4 378.75,333.1 379.00,331.6 379.25,331.2 379.50,332.9 379.75,335.3 380.00,333.8 380.25,331.7 380.50,331.6 380.75,331.3 381.00,332.2 381.25,332.4 381.50,331.7 381.75,332.6 382.00,329.7 382.25,335.3 382.50,332.9 382.75,335.2 383.00,333.0 383.25,332.1 383.50,332.6 383.75,332.9 384.00,331.3 384.25,331.8 384.50,336.0 384.75,334.2 385.00,331.6 385.25,333.5 385.50,331.1 385.75,335.3 386.00,330.9 386.25,334.5 386.50,332.9 386.75,333.0 387.00,331.5 387.25,332.6 387.50,331.7 387.75,331.6 388.00,334.0 388.25,337.1 388.50,332.5"/>
<path fill="#00c800" stroke="none" d="M74.00,276.6 74.25,274.2 74.50,270.7 74.70,270.6 74.75,270.2 75.00,272.6 75.25,274.0 75.50,276.6ZM80.25,276.6 80.50,275.3 80.75,273.3 81.00,269.7 81.20,269.8 81.25,269.1 81.50,270.8 81.75,274.5 82.00,276.6ZM123.25,276.6 123.50,274.7 123.75,266.0 124.00,252.4 124.25,238.1 124.50,231.0 124.75,238.1 125.00,253.1 125.25,266.1 125.50,274.1 125.75,275.3 126.00,276.6ZM127.50,276.6 127.75,276.4 128.00,272.2 128.25,267.4 128.50,265.1 128.75,267.2 129.00,272.9 129.25,275.8 129.50,276.6ZM130.00,276.6 130.25,275.9 130.50,275.0 130.75,274.9 131.00,271.7 131.20,269.7 131.25,269.9 131.50,272.3 131.75,274.3 132.00,276.6ZM136.50,276.6 136.75,274.9 137.00,268.3 137.25,257.6 137.50,239.6 137.75,215.6 138.00,192.8 138.25,180.5 138.30,179.9 138.50,186.0 138.75,205.8 139.00,230.3 139.25,250.8 139.50,264.8 139.75,272.6 140.00,276.4 140.25,276.6ZM140.75,276.6 141.00,274.4 141.25,266.3 141.50,253.8 141.75,239.7 142.00,232.8 142.25,239.6 142.50,253.7 142.75,266.9 143.00,273.8 143.25,276.6ZM148.75,276.6 149.00,272.7 149.25,262.4 149.50,246.2 149.75,223.0 150.00,198.8 150.25,185.4 150.30,185.0 150.50,191.4 150.75,212.8 151.00,237.6 151.25,256.5 151.50,268.6 151.75,275.1 152.00,275.2ZM154.75,271.9 155.00,271.1 155.25,268.9 155.50,267.5 155.75,267.8 156.00,270.8ZM157.75,269.8 158.00,268.8 158.25,260.9 158.50,249.5 158.75,240.9 158.90,239.1 159.00,239.8 159.25,247.3 159.50,258.1 159.75,265.0 160.00,268.9 160.25,269.8ZM169.75,276.6 170.00,271.9 170.25,263.1 170.50,248.8 170.75,236.4 170.90,234.0 171.00,235.4 171.25,246.1 171.50,260.0 171.75,270.6 172.00,275.1 172.25,276.6ZM191.75,276.6 192.00,272.7 192.25,265.0 192.50,254.9 192.75,248.7 192.80,248.9 193.00,251.6 193.25,260.7 193.50,270.4 193.75,275.7 194.00,276.6ZM206.75,276.6 207.00,272.6 207.25,267.5 207.50,263.2 207.60,263.6 207.75,263.8 208.00,268.8 208.25,273.9 208.50,276.3 208.75,276.6ZM230.00,276.6 230.25,276.1 230.50,276.3 230.75,276.6ZM235.75,276.6 236.00,276.5 236.25,275.6 236.50,273.1 236.75,275.8 237.00,276.6ZM251.25,276.6 251.50,276.6 251.75,272.6 252.00,268.0 252.25,264.9 252.30,265.0 252.50,266.7 252.75,271.2 253.00,276.6 253.25,276.6ZM259.75,276.6 260.00,275.2 260.25,273.9 260.30,274.0 260.50,273.8 260.75,276.3 261.00,276.6ZM282.00,276.6 282.25,275.7 282.50,269.9 282.75,261.3 283.00,255.4 283.10,255.0 283.25,256.0 283.50,263.4 283.75,270.7 284.00,276.5 284.25,276.6ZM292.00,276.6 292.25,272.1 292.50,263.3 292.75,251.9 293.00,242.6 293.10,241.9 293.25,244.3 293.50,253.9 293.75,265.4 294.00,274.5 294.25,276.6ZM303.00,274.2 303.25,271.1 303.50,262.3 303.75,248.8 304.00,235.8 304.20,231.5 304.25,231.4 304.50,240.5 304.75,254.5 305.00,266.7 305.25,271.3 305.50,272.9ZM338.50,276.6 338.75,275.6 339.00,271.6 339.25,269.7 339.30,270.7 339.50,270.5 339.75,274.5 340.00,276.6ZM346.75,276.6 347.00,275.4 347.25,266.4 347.50,254.5 347.75,240.7 348.00,234.2 348.25,240.7 348.50,255.0 348.75,267.8 349.00,274.3 349.25,276.6ZM377.50,276.6 377.75,274.9 378.00,273.7 378.25,272.0 378.30,271.3 378.50,272.0 378.75,274.5 379.00,276.4 379.25,276.6Z"/>
<polyline fill="none" stroke="#00c800" points="52.50,278.3 52.75,280.1 53.00,281.0 53.25,281.9 53.50,277.7 53.75,281.7 54.00,279.9 54.25,278.8 54.50,281.1 54.75,279.7 55.00,279.8 55.25,279.1 55.50,280.8 55.75,280.6 56.00,280.3 56.25,278.9 56.50,279.8 56.75,281.5 57.00,283.2 57.25,280.9 57.50,283.6 57.75,281.1 58.00,279.2 58.25,282.3 58.50,279.4 58.75,281.9 59.00,283.0 59.25,280.5 59.50,280.8 59.75,284.9 60.00,281.3 60.25,281.2 60.50,282.0 60.75,280.4 61.00,280.3 61.25,281.1 61.50,276.4 61.75,282.8 62.00,278.4 62.25,278.3 62.50,281.3 62.75,280.4 63.00,278.1 63.25,280.8 63.50,278.4 63.75,279.3 64.00,277.9 64.25,279.1 64.50,281.3 64.75,280.8 65.00,281.1 65.25,282.1 65.50,280.3 65.75,279.1 66.00,279.7 66.25,283.0 66.50,280.0 66.75,280.4 67.00,279.6 67.25,280.1 67.50,280.4 67.75,279.6 68.00,279.3 68.25,278.2 68.50,278.1 68.75,280.4 69.00,281.1 69.25,281.5 69.50,280.0 69.75,278.5 70.00,281.2 70.25,281.2 70.50,277.6 70.75,281.7 71.00,281.4 71.25,283.4 71.50,278.5 71.75,278.3 72.00,282.0 72.25,277.5 72.50,279.3 72.75,278.7 73.00,278.8 73.25,277.2 73.50,279.5 73.75,280.2 74.00,277.4 74.25,274.2 74.50,270.7 74.70,270.6 74.75,270.2 75.00,272.6 75.25,274.0 75.50,278.1 75.75,277.7 76.00,280.5 76.25,280.5 76.50,278.4 76.75,280.8 77.00,282.6 77.25,281.6 77.50,281.9 77.75,279.4 78.00,279.8 78.25,279.1 78.50,281.3 78.75,283.1 79.00,281.8 79.25,281.0 79.50,279.0 79.75,281.4 80.00,279.9 80.25,276.7 80.50,275.3 80.75,273.3 81.00,269.7 81.20,269.8 81.25,269.1 81.50,270.8 81.75,274.5 82.00,279.5 82.25,278.4 82.50,281.7 82.75,281.6 83.00,283.5 83.25,282.1 83.50,280.5 83.75,282.2 84.00,281.5 84.25,283.1 84.50,281.2 84.75,284.8 85.00,281.1 85.25,282.0 85.50,280.0 85.75,281.3 86.00,281.1 86.25,281.2 86.50,282.5 86.75,279.8 87.00,279.2 87.25,282.6 87.50,280.1 87.75,279.3 88.00,282.6 88.25,281.8 88.50,276.4 88.75,279.7 89.00,281.7 89.25,281.8 89.50,279.3 89.75,283.0 90.00,278.8 90.25,279.7 90.50,280.4 90.75,280.2 91.00,281.7 91.25,282.1 91.50,280.3 91.75,283.0 92.00,279.3 92.25,280.3 92.50,283.9 92.75,281.1 93.00,283.0 93.25,280.4 93.50,280.8 93.75,281.2 94.00,281.8 94.25,281.0 94.50,281.8 94.75,283.0 95.00,284.1 95.25,282.2 95.50,283.2 95.75,283.7 96.00,280.2 96.25,279.3 96.50,285.0 96.75,284.4 97.00,282.1 97.25,282.6 97.50,280.2 97.75,279.3 98.00,282.3 98.25,278.9 98.50,283.1 98.75,280.1 99.00,281.8 99.25,284.6 99.50,284.4 99.75,280.5 100.00,282.8 100.25,279.0 100.50,279.8 100.75,281.5 101.00,283.3 101.25,279.8 101.50,281.8 101.75,281.0 102.00,278.5 102.25,280.5 102.50,283.4 102.75,280.5 103.00,281.5 103.25,282.1 103.50,279.2 103.75,282.7 104.00,283.1 104.25,283.2 104.50,282.6 104.75,279.4 105.00,279.1 105.25,278.7 105.50,278.4 105.75,278.5 106.00,281.6 106.25,282.4 106.50,278.6 106.75,281.2 107.00,277.4 107.25,279.1 107.50,277.9 107.75,276.7 108.00,279.7 108.25,279.8 108.50,278.9 108.75,278.7 109.00,277.9 109.25,279.4 109.50,278.6 109.75,280.2 110.00,277.6 110.25,280.2 110.50,280.8 110.75,282.2 111.00,281.9 111.25,280.5 111.50,279.0 111.75,277.1 112.00,280.4 112.25,283.1 112.50,283.6 112.75,276.8 113.00,279.5 113.25,280.4 113.50,279.2 113.75,281.5 114.00,281.3 114.25,280.4 114.50,281.3 114.75,278.6 115.00,279.7 115.25,279.8 115.50,283.0 115.75,278.5 116.00,281.0 116.25,282.8 116.50,281.3 116.75,282.8 117.00,280.3 117.25,282.2 117.50,283.1 117.75,285.5 118.00,282.9 118.25,284.1 118.50,281.7 118.75,281.9 119.00,284.5 119.25,282.7 119.50,284.2 119.75,283.0 120.00,285.4 120.25,285.5 120.50,280.1 120.75,284.7 121.00,282.1 121.25,282.1 121.50,281.0 121.75,282.2 122.00,279.1 122.25,279.6 122.50,279.3 122.75,280.6 123.00,280.8 123.25,279.0 123.50,274.7 123.75,266.0 124.00,252.4 124.25,238.1 124.50,231.0 124.75,238.1 125.00,253.1 125.25,266.1 125.50,274.1 125.75,275.3 126.00,279.7 126.25,279.2 126.50,278.3 126.75,280.1 127.00,277.8 127.25,278.3 127.50,280.5 127.75,276.4 128.00,272.2 128.25,267.4 128.50,265.1 128.75,267.2 129.00,272.9 129.25,275.8 129.50,279.2 129.75,279.1 130.00,279.1 130.25,275.9 130.50,275.0 130.75,274.9 131.00,271.7 131.20,269.7 131.25,269.9 131.50,272.3 131.75,274.3 132.00,279.6 132.25,277.6 132.50,278.5 132.75,276.2 133.00,282.4 133.25,280.0 133.50,282.6 133.75,278.4 134.00,280.5 134.25,280.1 134.50,280.3 134.75,283.0 135.00,283.0 135.25,281.6 135.50,278.8 135.75,280.3 136.00,280.5 136.25,278.9 136.50,277.7 136.75,274.9 137.00,268.3 137.25,257.6 137.50,239.6 137.75,215.6 138.00,192.8 138.25,180.5 138.30,179.9 138.50,186.0 138.75,205.8 139.00,230.3 139.25,250.8 139.50,264.8 139.75,272.6 140.00,276.4 140.25,278.0 140.50,276.2 140.75,279.9 141.00,274.4 141.25,266.3 141.50,253.8 141.75,239.7 142.00,232.8 142.25,239.6 142.50,253.7 142.75,266.9 143.00,273.8 143.25,278.2 143.50,279.4 143.75,279.2 144.00,281.6 144.25,279.9 144.50,278.2 144.75,280.8 145.00,280.6 145.25,280.5 145.50,281.0 145.75,284.3 146.00,281.0 146.25,281.4 146.50,280.2 146.75,282.6 147.00,280.4 147.25,279.1 147.50,278.4 147.75,280.7 148.00,280.6 148.25,277.2 148.50,277.5 148.75,277.0 149.00,272.7 149.25,262.4 149.50,246.2 149.75,223.0 150.00,198.8 150.25,185.4 150.30,185.0 150.50,191.4 150.75,212.8 151.00,237.6 151.25,256.5 151.50,268.6 151.75,275.1 152.00,276.9 152.25,278.7 152.50,277.2 152.75,279.9 153.00,276.8 153.25,280.7 153.50,277.1 153.75,276.5 154.00,276.0 154.25,276.5 154.50,275.5 154.75,273.5 155.00,271.1 155.25,268.9 155.50,267.5 155.75,267.8 156.00,271.4 156.25,271.6 156.50,272.6 156.75,272.7 157.00,275.2 157.25,271.4 157.50,271.1 157.75,272.8 158.00,268.8 158.25,260.9 158.50,249.5 158.75,240.9 158.90,239.1 159.00,239.8 159.25,247.3 159.50,258.1 159.75,265.0 160.00,268.9 160.25,274.6 160.50,273.3 160.75,270.3 161.00,270.4 161.25,273.8 161.50,272.3 161.75,274.5 162.00,272.7 162.25,273.8 162.50,274.9 162.75,273.0 163.00,271.8 163.25,273.5 163.50,274.8 163.75,276.0 164.00,276.7 164.25,277.1 164.50,278.6 164.75,276.5 165.00,280.9 165.25,282.4 165.50,279.8 165.75,279.9 166.00,282.1 166.25,281.3 166.50,280.9 166.75,280.5 167.00,279.8 167.25,279.0 167.50,282.0 167.75,282.7 168.00,278.8 168.25,280.3 168.50,280.6 168.75,279.3 169.00,278.6 169.25,278.8 169.50,276.1 169.75,276.7 170.00,271.9 170.25,263.1 170.50,248.8 170.75,236.4 170.90,234.0 171.00,235.4 171.25,246.1 171.50,260.0 171.75,270.6 172.00,275.1 172.25,278.3 172.50,279.5 172.75,279.1 173.00,283.3 173.25,277.8 173.50,280.9 173.75,282.0 174.00,282.2 174.25,284.5 174.50,279.3 174.75,280.5 175.00,282.0 175.25,282.1 175.50,281.2 175.75,280.5 176.00,283.7 176.25,279.9 176.50,280.7 176.75,284.2 177.00,284.7 177.25,283.1 177.50,279.9 177.75,279.8 178.00,279.7 178.25,279.2 178.50,280.4 178.75,283.3 179.00,281.3 179.25,279.5 179.50,279.4 179.75,278.6 180.00,282.8 180.25,277.0 180.50,281.1 180.75,278.0 181.00,278.7 181.25,277.9 181.50,282.3 181.75,280.5 182.00,284.7 182.25,278.8 182.50,278.7 182.75,281.7 183.00,281.7 183.25,280.2 183.50,277.2 183.75,283.4 184.00,281.9 184.25,281.6 184.50,279.9 184.75,282.1 185.00,280.0 185.25,281.1 185.50,280.6 185.75,283.2 186.00,280.1 186.25,280.3 186.50,282.9 186.75,281.3 187.00,280.8 187.25,280.3 187.50,282.3 187.75,279.4 188.00,281.4 188.25,284.0 188.50,281.1 188.75,279.0 189.00,278.2 189.25,280.5 189.50,278.0 189.75,277.3 190.00,278.7 190.25,278.0 190.50,281.2 190.75,277.3 191.00,282.0 191.25,278.2 191.50,278.8 191.75,277.5 192.00,272.7 192.25,265.0 192.50,254.9 192.75,248.7 192.80,248.9 193.00,251.6 193.25,260.7 193.50,270.4 193.75,275.7 194.00,278.0 194.25,278.1 194.50,279.7 194.75,280.1 195.00,277.9 195.25,281.1 195.50,278.8 195.75,281.1 196.00,279.9 196.25,282.5 196.50,282.3 196.75,280.8 197.00,280.7 197.25,281.7 197.50,283.4 197.75,282.8 198.00,281.3 198.25,281.6 198.50,283.8 198.75,278.1 199.00,281.9 199.25,279.3 199.50,283.3 199.75,280.0 200.00,280.6 200.25,278.8 200.50,280.8 200.75,282.1 201.00,283.7 201.25,278.4 201.50,279.9 201.75,284.7 202.00,282.4 202.25,280.8 202.50,281.8 202.75,277.0 203.00,283.8 203.25,281.3 203.50,278.5 203.75,283.2 204.00,280.0 204.25,279.3 204.50,282.0 204.75,281.7 205.00,280.2 205.25,280.8 205.50,278.5 205.75,278.2 206.00,281.9 206.25,282.1 206.50,279.7 206.75,277.3 207.00,272.6 207.25,267.5 207.50,263.2 207.60,263.6 207.75,263.8 208.00,268.8 208.25,273.9 208.50,276.3 208.75,282.2 209.00,279.7 209.25,279.3 209.50,280.8 209.75,279.1 210.00,280.7 210.25,278.9 210.50,281.5 210.75,280.5 211.00,277.9 211.25,282.1 211.50,280.5 211.75,278.2 212.00,280.7 212.25,280.8 212.50,283.4 212.75,278.5 213.00,281.6 213.25,280.0 213.50,281.3 213.75,279.7 214.00,280.2 214.25,281.2 214.50,278.2 214.75,276.6 215.00,280.4 215.25,279.7 215.50,280.7 215.75,281.8 216.00,280.3 216.25,282.9 216.50,280.8 216.75,281.2 217.00,282.6 217.25,282.3 217.50,281.3 217.75,281.8 218.00,280.4 218.25,280.7 218.50,282.1 218.75,283.5 219.00,281.3 219.25,283.6 219.50,285.6 219.75,285.9 220.00,282.0 220.25,283.8 220.50,282.8 220.75,283.0 221.00,283.0 221.25,282.3 221.50,282.7 221.75,281.4 222.00,280.5 222.25,281.4 222.50,281.8 222.75,283.0 223.00,281.5 223.25,282.1 223.50,283.3 223.75,279.0 224.00,280.2 224.25,281.6 224.50,280.7 224.75,278.7 225.00,282.3 225.25,280.3 225.50,278.6 225.75,283.8 226.00,278.0 226.25,280.2 226.50,279.0 226.75,280.3 227.00,281.1 227.25,278.6 227.50,279.8 227.75,279.7 228.00,278.2 228.25,282.1 228.50,280.3 228.75,279.5 229.00,278.9 229.25,279.5 229.50,280.4 229.75,279.3 230.00,282.4 230.25,276.1 230.50,276.3 230.75,279.8 231.00,276.9 231.25,280.1 231.50,279.0 231.75,281.3 232.00,281.0 232.25,282.6 232.50,281.9 232.75,282.5 233.00,281.2 233.25,282.2 233.50,281.2 233.75,279.3 234.00,278.1 234.25,278.2 234.50,281.2 234.75,276.3 235.00,280.5 235.25,278.8 235.50,280.8 235.75,279.0 236.00,276.5 236.25,275.6 236.50,273.1 236.75,275.8 237.00,277.6 237.25,276.2 237.50,280.8 237.75,279.6 238.00,280.3 238.25,277.6 238.50,281.2 238.75,281.2 239.00,280.2 239.25,278.6 239.50,281.8 239.75,282.7 240.00,281.2 240.25,282.3 240.50,279.5 240.75,280.8 241.00,281.2 241.25,280.8 241.50,284.4 241.75,281.2 242.00,279.4 242.25,281.9 242.50,278.4 242.75,281.0 243.00,281.7 243.25,279.3 243.50,279.6 243.75,278.5 244.00,280.4 244.25,279.0 244.50,283.3 244.75,281.4 245.00,279.9 245.25,277.7 245.50,283.9 245.75,282.6 246.00,281.1 246.25,280.6 246.50,280.6 246.75,279.4 247.00,283.6 247.25,280.5 247.50,277.5 247.75,278.8 248.00,275.8 248.25,281.0 248.50,281.2 248.75,282.9 249.00,283.5 249.25,278.4 249.50,280.6 249.75,281.6 250.00,281.3 250.25,279.1 250.50,281.4 250.75,280.9 251.00,281.9 251.25,279.0 251.50,276.6 251.75,272.6 252.00,268.0 252.25,264.9 252.30,265.0 252.50,266.7 252.75,271.2 253.00,276.6 253.25,279.8 253.50,280.9 253.75,278.7 254.00,281.8 254.25,282.9 254.50,278.8 254.75,279.2 255.00,279.5 255.25,279.4 255.50,280.7 255.75,279.5 256.00,281.8 256.25,278.8 256.50,280.6 256.75,279.8 257.00,278.8 257.25,282.2 257.50,280.3 257.75,281.0 258.00,279.3 258.25,281.0 258.50,280.8 258.75,279.4 259.00,276.5 259.25,280.4 259.50,279.3 259.75,277.1 260.00,275.2 260.25,273.9 260.30,274.0 260.50,273.8 260.75,276.3 261.00,278.6 261.25,278.6 261.50,278.5 261.75,283.5 262.00,281.5 262.25,279.9 262.50,279.5 262.75,276.3 263.00,277.7 263.25,279.8 263.50,282.5 263.75,276.5 264.00,278.9 264.25,283.6 264.50,281.4 264.75,280.9 265.00,282.3 265.25,280.0 265.50,279.9 265.75,281.6 266.00,281.8 266.25,278.4 266.50,283.1 266.75,277.3 267.00,279.2 267.25,284.3 267.50,279.5 267.75,281.6 268.00,278.6 268.25,279.9 268.50,279.1 268.75,279.7 269.00,281.5 269.25,283.5 269.50,281.9 269.75,283.1 270.00,279.4 270.25,282.9 270.50,281.3 270.75,282.8 271.00,279.6 271.25,280.0 271.50,282.9 271.75,281.6 272.00,280.8 272.25,279.5 272.50,280.7 272.75,281.8 273.00,282.3 273.25,280.2 273.50,280.6 273.75,282.1 274.00,279.3 274.25,283.0 274.50,281.3 274.75,281.0 275.00,277.1 275.25,278.2 275.50,279.1 275.75,279.9 276.00,278.9 276.25,281.5 276.50,281.0 276.75,280.3 277.00,277.1 277.25,283.2 277.50,280.2 277.75,281.8 278.00,279.5 278.25,280.7 278.50,281.9 278.75,281.0 279.00,282.2 279.25,280.1 279.50,283.8 279.75,276.9 280.00,279.1 280.25,281.6 280.50,279.4 280.75,279.0 281.00,276.7 281.25,281.6 281.50,276.5 281.75,279.9 282.00,278.3 282.25,275.7 282.50,269.9 282.75,261.3 283.00,255.4 283.10,255.0 283.25,256.0 283.50,263.4 283.75,270.7 284.00,276.5 284.25,277.9 284.50,280.5 284.75,279.9 285.00,281.0 285.25,279.4 285.50,282.9 285.75,280.1 286.00,277.4 286.25,282.3 286.50,280.6 286.75,279.5 287.00,284.9 287.25,280.8 287.50,278.5 287.75,279.8 288.00,281.5 288.25,280.4 288.50,283.0 288.75,282.7 289.00,279.5 289.25,281.0 289.50,282.1 289.75,280.3 290.00,280.3 290.25,282.6 290.50,281.8 290.75,278.7 291.00,280.1 291.25,280.1 291.50,280.3 291.75,278.8 292.00,278.9 292.25,272.1 292.50,263.3 292.75,251.9 293.00,242.6 293.10,241.9 293.25,244.3 293.50,253.9 293.75,265.4 294.00,274.5 294.25,278.4 294.50,279.6 294.75,280.4 295.00,279.2 295.25,280.9 295.50,280.1 295.75,284.3 296.00,281.4 296.25,279.9 296.50,280.4 296.75,280.6 297.00,278.1 297.25,279.0 297.50,283.1 297.75,277.9 298.00,279.3 298.25,282.0 298.50,282.8 298.75,278.2 299.00,282.5 299.25,279.2 299.50,282.7 299.75,280.6 300.00,279.2 300.25,280.7 300.50,280.2 300.75,277.8 301.00,282.5 301.25,278.2 301.50,280.5 301.75,277.6 302.00,275.2 302.25,276.2 302.50,277.4 302.75,277.8 303.00,277.0 303.25,271.1 303.50,262.3 303.75,248.8 304.00,235.8 304.20,231.5 304.25,231.4 304.50,240.5 304.75,254.5 305.00,266.7 305.25,271.3 305.50,274.7 305.75,275.5 306.00,273.8 306.25,274.6 306.50,274.4 306.75,276.9 307.00,276.9 307.25,278.5 307.50,275.6 307.75,274.0 308.00,277.3 308.25,277.2 308.50,277.8 308.75,278.9 309.00,275.7 309.25,278.2 309.50,275.0 309.75,277.1 310.00,278.1 310.25,276.7 310.50,277.4 310.75,274.6 311.00,276.1 311.25,277.6 311.50,275.4 311.75,276.2 312.00,282.0 312.25,278.7 312.50,277.0 312.75,276.9 313.00,281.4 313.25,275.3 313.50,278.8 313.75,280.7 314.00,278.8 314.25,280.9 314.50,278.3 314.75,280.3 315.00,280.6 315.25,280.5 315.50,280.7 315.75,280.4 316.00,282.3 316.25,279.8 316.50,279.2 316.75,279.7 317.00,279.6 317.25,277.4 317.50,276.7 317.75,277.7 318.00,280.7 318.25,279.0 318.50,279.5 318.75,284.6 319.00,282.5 319.25,280.2 319.50,279.5 319.75,283.2 320.00,279.4 320.25,283.1 320.50,282.0 320.75,283.4 321.00,279.6 321.25,282.6 321.50,277.7 321.75,280.6 322.00,282.8 322.25,282.0 322.50,277.4 322.75,281.8 323.00,281.3 323.25,280.3 323.50,279.0 323.75,279.7 324.00,279.1 324.25,281.8 324.50,280.9 324.75,282.0 325.00,281.3 325.25,277.7 325.50,280.3 325.75,284.0 326.00,278.3 326.25,280.9 326.50,279.1 326.75,279.0 327.00,281.1 327.25,282.5 327.50,282.3 327.75,281.8 328.00,282.7 328.25,278.1 328.50,282.5 328.75,281.8 329.00,280.7 329.25,281.0 329.50,279.4 329.75,282.9 330.00,279.4 330.25,277.9 330.50,280.5 330.75,279.3 331.00,280.1 331.25,282.9 331.50,279.8 331.75,280.2 332.00,284.0 332.25,277.4 332.50,280.6 332.75,282.1 333.00,282.7 333.25,284.1 333.50,279.0 333.75,281.3 334.00,280.1 334.25,279.6 334.50,279.1 334.75,277.9 335.00,281.1 335.25,281.9 335.50,278.6 335.75,281.8 336.00,279.5 336.25,278.6 336.50,276.6 336.75,282.2 337.00,281.5 337.25,279.6 337.50,279.4 337.75,277.8 338.00,280.6 338.25,279.2 338.50,278.5 338.75,275.6 339.00,271.6 339.25,269.7 339.30,270.7 339.50,270.5 339.75,274.5 340.00,278.1 340.25,277.5 340.50,281.2 340.75,280.6 341.00,281.6 341.25,279.7 341.50,280.8 341.75,281.6 342.00,284.1 342.25,282.1 342.50,281.7 342.75,278.4 343.00,281.2 343.25,279.3 343.50,280.3 343.75,280.8 344.00,281.9 344.25,281.2 344.50,280.4 344.75,279.9 345.00,282.2 345.25,278.3 345.50,279.8 345.75,281.8 346.00,279.2 346.25,280.6 346.50,280.2 346.75,280.1 347.00,275.4 347.25,266.4 347.50,254.5 347.75,240.7 348.00,234.2 348.25,240.7 348.50,255.0 348.75,267.8 349.00,274.3 349.25,278.1 349.50,277.4 349.75,283.4 350.00,280.8 350.25,280.9 350.50,278.6 350.75,280.5 351.00,281.9 351.25,280.5 351.50,280.4 351.75,279.9 352.00,284.4 352.25,279.8 352.50,278.2 352.75,279.7 353.00,279.9 353.25,280.3 353.50,279.9 353.75,278.3 354.00,279.8 354.25,280.8 354.50,277.5 354.75,283.5 355.00,282.9 355.25,276.5 355.50,279.1 355.75,281.5 356.00,282.0 356.25,282.8 356.50,276.2 356.75,277.6 357.00,278.7 357.25,280.6 357.50,277.8 357.75,280.6 358.00,280.7 358.25,281.3 358.50,277.8 358.75,280.7 359.00,280.6 359.25,279.8 359.50,283.1 359.75,280.3 360.00,283.5 360.25,279.9 360.50,284.1 360.75,284.0 361.00,279.5 361.25,281.6 361.50,281.5 361.75,279.1 362.00,282.2 362.25,281.8 362.50,279.0 362.75,280.7 363.00,282.1 363.25,280.1 363.50,279.0 363.75,283.2 364.00,278.3 364.25,280.7 364.50,282.1 364.75,281.4 365.00,276.6 365.25,279.4 365.50,279.8 365.75,279.7 366.00,281.3 366.25,281.2 366.50,280.5 366.75,280.9 367.00,282.3 367.25,282.9 367.50,277.2 367.75,284.8 368.00,279.8 368.25,282.3 368.50,278.0 368.75,280.1 369.00,278.7 369.25,283.0 369.50,282.6 369.75,281.0 370.00,280.6 370.25,281.6 370.50,279.1 370.75,279.7 371.00,279.3 371.25,282.2 371.50,280.8 371.75,278.4 372.00,281.4 372.25,281.8 372.50,283.4 372.75,279.9 373.00,281.7 373.25,284.9 373.50,280.5 373.75,280.5 374.00,282.2 374.25,280.4 374.50,281.3 374.75,280.4 375.00,280.0 375.25,282.9 375.50,280.7 375.75,279.6 376.00,280.8 376.25,281.1 376.50,281.8 376.75,282.8 377.00,283.9 377.25,278.6 377.50,278.6 377.75,274.9 378.00,273.7 378.25,272.0 378.30,271.3 378.50,272.0 378.75,274.5 379.00,276.4 379.25,280.6 379.50,283.6 379.75,278.9 380.00,283.7 380.25,280.7 380.50,278.3 380.75,281.7 381.00,282.0 381.25,281.3 381.50,280.1 381.75,283.6 382.00,280.0 382.25,281.7 382.50,281.7 382.75,278.9 383.00,277.2 383.25,277.4 383.50,279.9 383.75,281.2 384.00,277.3 384.25,279.2 384.50,283.3 384.75,277.2 385.00,281.3 385.25,281.0 385.50,281.8 385.75,277.6 386.00,280.9 386.25,277.6 386.50,282.5 386.75,278.5 387.00,280.7 387.25,278.5 387.50,280.2 387.75,277.2 388.00,280.5 388.25,281.1 388.50,280.0"/>
<path fill="#9c6208" stroke="none" d="M74.75,224.6 75.00,223.8 75.25,222.7 75.50,219.5 75.70,219.4 75.75,219.4 76.00,221.0 76.25,223.8 76.50,224.6ZM80.25,224.6 80.50,221.4 80.75,214.6 81.00,208.2 81.20,206.5 81.25,206.2 81.50,211.1 81.75,218.5 82.00,223.2 82.25,224.6ZM123.50,224.6 123.75,224.3 124.00,218.4 124.25,208.5 124.50,193.5 124.75,177.2 125.00,166.1 125.10,165.1 125.25,167.6 125.50,180.4 125.75,196.6 126.00,210.7 126.25,219.5 126.50,224.1 126.75,224.6ZM128.25,224.0 128.50,222.7 128.75,216.7 129.00,212.1 129.20,210.3 129.25,210.4 129.50,212.0 129.75,216.5 130.00,220.4 130.25,220.3 130.50,220.1ZM132.00,219.7 132.25,218.9 132.50,216.7 132.60,216.1 132.75,217.5 133.00,220.1 133.25,221.1ZM137.00,224.6 137.25,223.4 137.50,218.3 137.75,209.8 138.00,194.9 138.25,173.6 138.50,148.3 138.75,126.8 139.00,118.1 139.25,126.8 139.50,148.2 139.75,173.2 140.00,194.6 140.25,210.0 140.50,219.2 140.75,222.8 141.00,224.1 141.25,224.6ZM141.50,224.6 141.75,222.4 142.00,214.6 142.25,198.1 142.50,174.6 142.75,154.3 142.90,149.8 143.00,151.8 143.25,169.8 143.50,193.5 143.75,212.2 144.00,219.7 144.25,224.6ZM150.25,224.6 150.50,223.5 150.75,218.0 151.00,206.3 151.25,186.6 151.50,160.6 151.75,135.7 152.00,125.0 152.25,135.7 152.50,160.6 152.75,186.8 153.00,206.2 153.25,217.7 153.50,223.9 153.75,224.6ZM157.25,221.4 157.50,214.6 157.75,201.7 158.00,180.3 158.25,156.6 158.50,145.3 158.75,155.8 159.00,179.1 159.25,200.2 159.50,212.4 159.75,217.7 160.00,218.2ZM170.50,222.4 170.75,217.5 171.00,208.1 171.25,195.7 171.50,186.0 171.60,185.2 171.75,187.8 172.00,199.5 172.25,211.9 172.50,220.3 172.75,224.6ZM193.25,224.6 193.50,219.1 193.75,208.5 194.00,193.5 194.25,179.8 194.40,177.1 194.50,178.3 194.75,190.2 195.00,206.3 195.25,217.7 195.50,224.6ZM207.50,224.6 207.75,220.0 208.00,215.6 208.25,210.5 208.40,209.1 208.50,209.1 208.75,213.4 209.00,220.4 209.25,223.2 209.50,224.6ZM236.50,224.6 236.75,222.7 237.00,221.0 237.20,220.8 237.25,220.0 237.50,220.6 237.75,223.2 238.00,224.6ZM251.50,224.6 251.75,224.0 252.00,220.1 252.25,212.4 252.50,205.3 252.70,203.5 252.75,202.9 253.00,208.3 253.25,215.8 253.50,221.5 253.75,224.6ZM262.75,224.6 263.00,223.1 263.25,219.8 263.30,221.4 263.50,221.8 263.75,223.9 264.00,224.1 264.25,224.6ZM282.25,224.6 282.50,222.2 282.75,214.7 283.00,203.7 283.25,195.2 283.40,193.1 283.50,193.9 283.75,202.1 284.00,212.7 284.25,220.9 284.50,224.6ZM293.75,219.9 294.00,215.4 294.25,206.2 294.50,196.5 294.75,190.2 294.80,189.9 295.00,193.6 295.25,203.4 295.50,213.2 295.75,218.0 296.00,219.8ZM297.50,220.6 297.75,219.9 297.90,218.0 298.00,219.0 298.25,221.3 298.50,221.5 298.75,221.8ZM302.75,223.5 303.00,220.7 303.25,217.0 303.50,215.0 303.75,216.0 304.00,219.7 304.25,222.7ZM304.75,222.5 305.00,222.1 305.25,219.2 305.50,211.0 305.75,199.7 306.00,187.1 306.20,183.3 306.25,183.5 306.50,191.9 306.75,204.7 307.00,215.3 307.25,220.8 307.50,221.7ZM310.25,221.8 310.50,220.5 310.75,219.7 311.00,218.5 311.25,220.2 311.50,222.2ZM313.50,223.1 313.75,220.9 314.00,219.5 314.25,222.7 314.50,223.7ZM339.00,224.6 339.25,220.8 339.50,216.9 339.75,210.3 340.00,206.7 340.25,210.4 340.50,217.0 340.75,223.2 341.00,224.6ZM348.50,224.6 348.75,222.9 349.00,215.5 349.25,203.5 349.50,188.8 349.75,179.4 349.80,179.0 350.00,183.5 350.25,197.6 350.50,212.0 350.75,220.2 351.00,224.6ZM379.75,224.6 380.00,224.4 380.25,223.1 380.50,220.8 380.75,217.6 380.90,217.1 381.00,216.3 381.25,219.4 381.50,223.7 381.75,224.6Z"/>
<polyline fill="none" stroke="#9c6208" points="52.50,228.5 52.75,228.6 53.00,226.1 53.25,228.4 53.50,228.1 53.75,224.5 54.00,228.3 54.25,229.0 54.50,228.9 54.75,229.0 55.00,226.4 55.25,227.1 55.50,228.1 55.75,226.8 56.00,227.5 56.25,230.5 56.50,226.7 56.75,227.6 57.00,231.4 57.25,227.9 57.50,226.3 57.75,228.5 58.00,228.3 58.25,228.2 58.50,225.0 58.75,228.4 59.00,228.6 59.25,231.6 59.50,229.2 59.75,227.2 60.00,228.6 60.25,229.3 60.50,227.9 60.75,228.1 61.00,230.7 61.25,229.2 61.50,229.3 61.75,226.7 62.00,229.2 62.25,225.1 62.50,230.6 62.75,227.6 63.00,229.6 63.25,231.0 63.50,226.6 63.75,230.6 64.00,228.9 64.25,230.6 64.50,228.0 64.75,227.4 65.00,231.0 65.25,229.5 65.50,228.9 65.75,226.8 66.00,231.2 66.25,228.4 66.50,228.6 66.75,227.8 67.00,229.1 67.25,230.2 67.50,229.1 67.75,229.0 68.00,228.2 68.25,231.8 68.50,232.0 68.75,228.5 69.00,227.5 69.25,229.4 69.50,226.0 69.75,229.3 70.00,229.2 70.25,229.0 70.50,231.4 70.75,231.8 71.00,229.2 71.25,227.7 71.50,230.1 71.75,230.2 72.00,226.1 72.25,226.8 72.50,227.6 72.75,225.1 73.00,226.1 73.25,230.8 73.50,225.8 73.75,229.4 74.00,226.5 74.25,229.4 74.50,228.0 74.75,228.0 75.00,223.8 75.25,222.7 75.50,219.5 75.70,219.4 75.75,219.4 76.00,221.0 76.25,223.8 76.50,226.4 76.75,228.3 77.00,227.8 77.25,228.2 77.50,228.0 77.75,227.3 78.00,230.9 78.25,226.9 78.50,231.3 78.75,230.2 79.00,226.2 79.25,225.9 79.50,228.8 79.75,226.8 80.00,227.8 80.25,226.4 80.50,221.4 80.75,214.6 81.00,208.2 81.20,206.5 81.25,206.2 81.50,211.1 81.75,218.5 82.00,223.2 82.25,227.3 82.50,231.0 82.75,228.2 83.00,230.2 83.25,231.4 83.50,228.0 83.75,230.4 84.00,230.0 84.25,228.8 84.50,232.2 84.75,229.2 85.00,233.1 85.25,230.5 85.50,227.9 85.75,229.5 86.00,227.6 86.25,230.3 86.50,229.9 86.75,226.7 87.00,228.0 87.25,229.5 87.50,228.8 87.75,227.0 88.00,230.6 88.25,231.1 88.50,226.1 88.75,231.3 89.00,225.2 89.25,228.5 89.50,227.6 89.75,227.8 90.00,229.1 90.25,226.7 90.50,228.5 90.75,231.7 91.00,229.5 91.25,231.3 91.50,230.2 91.75,225.9 92.00,231.9 92.25,230.3 92.50,229.9 92.75,228.2 93.00,227.9 93.25,227.1 93.50,228.7 93.75,229.2 94.00,228.8 94.25,228.9 94.50,225.8 94.75,227.9 95.00,227.9 95.25,229.9 95.50,228.6 95.75,228.6 96.00,229.5 96.25,228.5 96.50,228.8 96.75,231.1 97.00,228.8 97.25,227.4 97.50,230.0 97.75,230.3 98.00,229.9 98.25,226.4 98.50,230.3 98.75,228.7 99.00,228.9 99.25,228.7 99.50,229.4 99.75,229.4 100.00,231.2 100.25,229.0 100.50,228.5 100.75,229.8 101.00,228.5 101.25,230.6 101.50,228.9 101.75,229.9 102.00,227.7 102.25,230.3 102.50,229.6 102.75,227.0 103.00,227.9 103.25,228.7 103.50,226.2 103.75,226.7 104.00,229.5 104.25,229.6 104.50,231.1 104.75,226.7 105.00,228.4 105.25,225.6 105.50,232.3 105.75,227.0 106.00,229.0 106.25,232.8 106.50,232.0 106.75,228.0 107.00,233.4 107.25,230.2 107.50,227.6 107.75,229.7 108.00,230.2 108.25,230.1 108.50,225.3 108.75,232.0 109.00,226.0 109.25,228.3 109.50,231.1 109.75,229.3 110.00,228.6 110.25,227.6 110.50,229.7 110.75,231.1 111.00,227.8 111.25,229.5 111.50,228.2 111.75,228.2 112.00,225.4 112.25,229.6 112.50,230.8 112.75,229.1 113.00,231.2 113.25,229.8 113.50,231.7 113.75,229.9 114.00,229.1 114.25,228.9 114.50,230.0 114.75,230.4 115.00,228.6 115.25,229.7 115.50,227.6 115.75,227.6 116.00,231.0 116.25,230.4 116.50,231.3 116.75,229.9 117.00,230.0 117.25,232.7 117.50,228.0 117.75,229.9 118.00,232.0 118.25,232.7 118.50,230.1 118.75,228.9 119.00,227.3 119.25,228.7 119.50,229.2 119.75,228.9 120.00,229.7 120.25,229.8 120.50,228.0 120.75,227.3 121.00,228.3 121.25,229.5 121.50,231.3 121.75,226.2 122.00,230.3 122.25,228.1 122.50,230.0 122.75,230.9 123.00,228.7 123.25,226.1 123.50,226.1 123.75,224.3 124.00,218.4 124.25,208.5 124.50,193.5 124.75,177.2 125.00,166.1 125.10,165.1 125.25,167.6 125.50,180.4 125.75,196.6 126.00,210.7 126.25,219.5 126.50,224.1 126.75,225.6 127.00,226.4 127.25,229.8 127.50,227.4 127.75,226.0 128.00,227.1 128.25,228.0 128.50,222.7 128.75,216.7 129.00,212.1 129.20,210.3 129.25,210.4 129.50,212.0 129.75,216.5 130.00,220.4 130.25,220.3 130.50,222.7 130.75,223.2 131.00,224.3 131.25,224.7 131.50,222.4 131.75,222.1 132.00,220.9 132.25,218.9 132.50,216.7 132.60,216.1 132.75,217.5 133.00,220.1 133.25,222.3 133.50,224.9 133.75,227.8 134.00,225.2 134.25,225.4 134.50,225.4 134.75,228.0 135.00,229.4 135.25,227.3 135.50,230.4 135.75,227.1 136.00,228.1 136.25,227.4 136.50,228.8 136.75,226.0 137.00,227.2 137.25,223.4 137.50,218.3 137.75,209.8 138.00,194.9 138.25,173.6 138.50,148.3 138.75,126.8 139.00,118.1 139.25,126.8 139.50,148.2 139.75,173.2 140.00,194.6 140.25,210.0 140.50,219.2 140.75,222.8 141.00,224.1 141.25,226.3 141.50,225.6 141.75,222.4 142.00,214.6 142.25,198.1 142.50,174.6 142.75,154.3 142.90,149.8 143.00,151.8 143.25,169.8 143.50,193.5 143.75,212.2 144.00,219.7 144.25,225.4 144.50,226.5 144.75,226.7 145.00,227.0 145.25,225.7 145.50,225.6 145.75,228.8 146.00,226.5 146.25,224.4 146.50,224.8 146.75,224.3 147.00,227.2 147.25,228.5 147.50,226.2 147.75,226.9 148.00,226.0 148.25,228.1 148.50,228.0 148.75,228.0 149.00,229.2 149.25,224.9 149.50,227.5 149.75,224.4 150.00,226.8 150.25,225.9 150.50,223.5 150.75,218.0 151.00,206.3 151.25,186.6 151.50,160.6 151.75,135.7 152.00,125.0 152.25,135.7 152.50,160.6 152.75,186.8 153.00,206.2 153.25,217.7 153.50,223.9 153.75,225.6 154.00,227.1 154.25,226.3 154.50,227.4 154.75,225.5 155.00,226.6 155.25,229.2 155.50,227.9 155.75,226.8 156.00,226.5 156.25,223.9 156.50,225.7 156.75,223.0 157.00,222.6 157.25,221.6 157.50,214.6 157.75,201.7 158.00,180.3 158.25,156.6 158.50,145.3 158.75,155.8 159.00,179.1 159.25,200.2 159.50,212.4 159.75,217.7 160.00,218.8 160.25,219.7 160.50,221.0 160.75,221.8 161.00,220.4 161.25,221.7 161.50,219.7 161.75,216.8 162.00,220.3 162.25,215.9 162.50,218.8 162.75,218.8 163.00,217.0 163.25,218.4 163.50,217.9 163.75,219.1 164.00,218.5 164.25,220.1 164.50,218.7 164.75,220.5 165.00,219.8 165.25,220.4 165.50,220.5 165.75,219.9 166.00,222.9 166.25,222.3 166.50,217.9 166.75,220.0 167.00,225.1 167.25,222.2 167.50,226.8 167.75,224.0 168.00,224.3 168.25,223.1 168.50,223.8 168.75,224.7 169.00,226.1 169.25,225.1 169.50,225.1 169.75,223.9 170.00,224.6 170.25,224.3 170.50,222.8 170.75,217.5 171.00,208.1 171.25,195.7 171.50,186.0 171.60,185.2 171.75,187.8 172.00,199.5 172.25,211.9 172.50,220.3 172.75,225.9 173.00,226.7 173.25,229.2 173.50,227.3 173.75,226.6 174.00,227.2 174.25,230.6 174.50,230.3 174.75,228.2 175.00,229.7 175.25,225.8 175.50,230.2 175.75,228.8 176.00,228.2 176.25,228.5 176.50,229.0 176.75,227.9 177.00,228.1 177.25,226.8 177.50,231.5 177.75,227.4 178.00,228.7 178.25,230.8 178.50,231.1 178.75,231.5 179.00,228.2 179.25,228.4 179.50,229.0 179.75,226.0 180.00,230.6 180.25,226.3 180.50,228.7 180.75,230.4 181.00,230.2 181.25,227.9 181.50,230.1 181.75,230.2 182.00,225.5 182.25,227.7 182.50,229.2 182.75,228.7 183.00,227.5 183.25,227.6 183.50,231.6 183.75,227.0 184.00,229.4 184.25,225.5 184.50,228.4 184.75,229.2 185.00,226.8 185.25,226.4 185.50,230.6 185.75,227.2 186.00,229.2 186.25,225.1 186.50,230.4 186.75,224.3 187.00,226.2 187.25,226.8 187.50,227.7 187.75,228.2 188.00,230.6 188.25,231.4 188.50,231.1 188.75,229.4 189.00,228.4 189.25,224.7 189.50,228.0 189.75,227.2 190.00,229.2 190.25,226.5 190.50,226.9 190.75,227.0 191.00,229.3 191.25,228.5 191.50,226.6 191.75,225.6 192.00,227.3 192.25,227.2 192.50,227.2 192.75,227.8 193.00,227.8 193.25,225.5 193.50,219.1 193.75,208.5 194.00,193.5 194.25,179.8 194.40,177.1 194.50,178.3 194.75,190.2 195.00,206.3 195.25,217.7 195.50,225.0 195.75,227.3 196.00,227.5 196.25,227.4 196.50,227.5 196.75,230.1 197.00,230.0 197.25,227.2 197.50,229.2 197.75,225.7 198.00,228.6 198.25,231.9 198.50,226.6 198.75,229.1 199.00,227.6 199.25,228.9 199.50,227.0 199.75,229.1 200.00,225.0 200.25,228.5 200.50,228.5 200.75,228.9 201.00,232.4 201.25,227.0 201.50,227.8 201.75,226.6 202.00,229.7 202.25,228.8 202.50,226.7 202.75,230.2 203.00,229.0 203.25,230.9 203.50,229.7 203.75,228.5 204.00,227.0 204.25,224.7 204.50,227.3 204.75,230.2 205.00,227.9 205.25,226.9 205.50,228.8 205.75,229.6 206.00,232.3 206.25,226.7 206.50,227.7 206.75,226.4 207.00,226.7 207.25,228.1 207.50,224.9 207.75,220.0 208.00,215.6 208.25,210.5 208.40,209.1 208.50,209.1 208.75,213.4 209.00,220.4 209.25,223.2 209.50,225.5 209.75,224.9 210.00,230.2 210.25,226.2 210.50,227.1 210.75,226.2 211.00,226.3 211.25,225.6 211.50,229.4 211.75,226.5 212.00,230.2 212.25,225.7 212.50,228.8 212.75,229.8 213.00,226.3 213.25,228.7 213.50,227.4 213.75,226.6 214.00,227.9 214.25,225.4 214.50,228.2 214.75,226.0 215.00,229.8 215.25,231.3 215.50,231.0 215.75,227.3 216.00,228.2 216.25,231.7 216.50,230.4 216.75,229.2 217.00,224.3 217.25,227.3 217.50,231.6 217.75,228.5 218.00,226.9 218.25,227.8 218.50,231.8 218.75,229.9 219.00,225.5 219.25,225.9 219.50,228.0 219.75,230.3 220.00,226.9 220.25,227.3 220.50,224.7 220.75,227.4 221.00,229.6 221.25,229.7 221.50,226.1 221.75,230.1 222.00,227.2 222.25,226.1 222.50,229.4 222.75,225.6 223.00,227.6 223.25,226.8 223.50,228.0 223.75,228.5 224.00,227.3 224.25,226.5 224.50,227.0 224.75,224.3 225.00,227.7 225.25,231.6 225.50,228.6 225.75,230.2 226.00,228.3 226.25,228.4 226.50,229.3 226.75,229.8 227.00,229.8 227.25,227.3 227.50,228.9 227.75,226.3 228.00,230.7 228.25,228.8 228.50,228.4 228.75,226.6 229.00,229.6 229.25,230.4 229.50,229.5 229.75,230.4 230.00,227.1 230.25,230.0 230.50,228.3 230.75,224.5 231.00,228.8 231.25,226.5 231.50,228.0 231.75,227.1 232.00,226.8 232.25,230.3 232.50,227.5 232.75,228.8 233.00,229.7 233.25,227.9 233.50,226.4 233.75,228.7 234.00,228.4 234.25,226.9 234.50,228.7 234.75,230.7 235.00,230.1 235.25,231.1 235.50,230.7 235.75,228.5 236.00,227.9 236.25,225.7 236.50,226.8 236.75,222.7 237.00,221.0 237.20,220.8 237.25,220.0 237.50,220.6 237.75,223.2 238.00,225.8 238.25,229.3 238.50,227.4 238.75,227.9 239.00,226.4 239.25,228.9 239.50,228.5 239.75,229.8 240.00,226.7 240.25,229.4 240.50,225.9 240.75,227.2 241.00,227.4 241.25,228.1 241.50,229.1 241.75,224.6 242.00,228.4 242.25,227.9 242.50,226.3 242.75,228.2 243.00,229.6 243.25,228.1 243.50,228.1 243.75,230.2 244.00,227.7 244.25,231.0 244.50,229.8 244.75,229.8 245.00,230.1 245.25,231.2 245.50,227.7 245.75,230.8 246.00,227.1 246.25,229.2 246.50,229.5 246.75,228.6 247.00,226.3 247.25,226.0 247.50,226.1 247.75,227.9 248.00,228.2 248.25,228.9 248.50,225.2 248.75,228.4 249.00,229.7 249.25,228.2 249.50,227.9 249.75,229.3 250.00,230.6 250.25,230.4 250.50,230.4 250.75,225.7 251.00,230.0 251.25,227.0 251.50,227.8 251.75,224.0 252.00,220.1 252.25,212.4 252.50,205.3 252.70,203.5 252.75,202.9 253.00,208.3 253.25,215.8 253.50,221.5 253.75,227.4 254.00,227.7 254.25,227.4 254.50,229.0 254.75,227.4 255.00,231.6 255.25,226.3 255.50,228.1 255.75,225.5 256.00,229.4 256.25,230.4 256.50,230.6 256.75,231.6 257.00,228.9 257.25,228.1 257.50,230.5 257.75,227.8 258.00,229.4 258.25,228.0 258.50,227.5 258.75,228.8 259.00,230.9 259.25,230.5 259.50,229.3 259.75,224.9 260.00,229.2 260.25,229.9 260.50,230.2 260.75,228.0 261.00,231.0 261.25,229.8 261.50,226.0 261.75,230.4 262.00,231.6 262.25,228.7 262.50,226.1 262.75,226.5 263.00,223.1 263.25,219.8 263.30,221.4 263.50,221.8 263.75,223.9 264.00,224.1 264.25,225.0 264.50,228.2 264.75,231.4 265.00,228.5 265.25,228.3 265.50,227.1 265.75,227.4 266.00,229.9 266.25,226.7 266.50,231.3 266.75,228.8 267.00,228.5 267.25,227.7 267.50,226.6 267.75,227.4 268.00,225.2 268.25,227.9 268.50,224.4 268.75,231.7 269.00,227.6 269.25,225.0 269.50,228.2 269.75,227.9 270.00,226.6 270.25,228.0 270.50,226.1 270.75,227.2 271.00,227.1 271.25,228.3 271.50,226.3 271.75,227.8 272.00,223.4 272.25,229.2 272.50,227.6 272.75,228.3 273.00,226.9 273.25,229.0 273.50,227.5 273.75,228.0 274.00,227.9 274.25,226.9 274.50,226.4 274.75,229.0 275.00,229.3 275.25,228.2 275.50,230.6 275.75,228.6 276.00,229.3 276.25,230.5 276.50,229.8 276.75,228.3 277.00,226.7 277.25,227.3 277.50,226.8 277.75,230.1 278.00,224.8 278.25,232.2 278.50,227.1 278.75,230.5 279.00,229.2 279.25,229.5 279.50,226.3 279.75,230.3 280.00,228.3 280.25,229.5 280.50,226.8 280.75,228.3 281.00,227.1 281.25,228.7 281.50,229.1 281.75,227.5 282.00,228.0 282.25,226.5 282.50,222.2 282.75,214.7 283.00,203.7 283.25,195.2 283.40,193.1 283.50,193.9 283.75,202.1 284.00,212.7 284.25,220.9 284.50,226.0 284.75,225.2 285.00,227.3 285.25,228.4 285.50,225.6 285.75,226.4 286.00,230.3 286.25,232.0 286.50,228.8 286.75,229.5 287.00,227.0 287.25,230.8 287.50,228.5 287.75,228.8 288.00,229.4 288.25,227.7 288.50,227.5 288.75,228.7 289.00,226.9 289.25,227.4 289.50,224.0 289.75,225.9 290.00,228.1 290.25,228.9 290.50,227.6 290.75,224.8 291.00,226.1 291.25,224.0 291.50,223.5 291.75,226.7 292.00,224.2 292.25,224.0 292.50,224.7 292.75,225.6 293.00,224.0 293.25,223.1 293.50,223.0 293.75,220.4 294.00,215.4 294.25,206.2 294.50,196.5 294.75,190.2 294.80,189.9 295.00,193.6 295.25,203.4 295.50,213.2 295.75,218.0 296.00,222.3 296.25,223.5 296.50,223.9 296.75,221.0 297.00,224.3 297.25,223.6 297.50,220.7 297.75,219.9 297.90,218.0 298.00,219.0 298.25,221.3 298.50,221.5 298.75,224.1 299.00,224.2 299.25,227.5 299.50,224.6 299.75,227.5 300.00,226.5 300.25,229.4 300.50,227.4 300.75,228.4 301.00,229.5 301.25,227.6 301.50,228.0 301.75,228.1 302.00,227.3 302.25,228.0 302.50,225.5 302.75,224.4 303.00,220.7 303.25,217.0 303.50,215.0 303.75,216.0 304.00,219.7 304.25,223.6 304.50,224.2 304.75,226.6 305.00,222.1 305.25,219.2 305.50,211.0 305.75,199.7 306.00,187.1 306.20,183.3 306.25,183.5 306.50,191.9 306.75,204.7 307.00,215.3 307.25,220.8 307.50,225.3 307.75,223.5 308.00,222.5 308.25,226.0 308.50,224.7 308.75,223.9 309.00,225.8 309.25,226.2 309.50,222.9 309.75,227.0 310.00,227.8 310.25,223.3 310.50,220.5 310.75,219.7 311.00,218.5 311.25,220.2 311.50,222.9 311.75,224.2 312.00,228.0 312.25,223.4 312.50,225.7 312.75,227.2 313.00,227.0 313.25,225.3 313.50,224.1 313.75,220.9 314.00,219.5 314.25,222.7 314.50,225.6 314.75,226.4 315.00,226.0 315.25,227.3 315.50,229.9 315.75,229.5 316.00,231.6 316.25,232.2 316.50,231.5 316.75,228.9 317.00,231.1 317.25,230.2 317.50,229.7 317.75,229.6 318.00,229.1 318.25,227.4 318.50,229.8 318.75,227.7 319.00,228.9 319.25,230.4 319.50,230.2 319.75,225.5 320.00,227.4 320.25,226.6 320.50,228.9 320.75,226.9 321.00,229.8 321.25,227.2 321.50,228.8 321.75,226.1 322.00,226.5 322.25,227.2 322.50,228.4 322.75,223.9 323.00,227.7 323.25,225.0 323.50,227.9 323.75,224.4 324.00,226.9 324.25,229.9 324.50,230.4 324.75,226.2 325.00,231.2 325.25,227.5 325.50,228.5 325.75,229.5 326.00,228.9 326.25,229.5 326.50,229.3 326.75,230.6 327.00,229.5 327.25,228.4 327.50,227.5 327.75,227.4 328.00,229.2 328.25,230.6 328.50,229.9 328.75,228.8 329.00,230.1 329.25,228.3 329.50,229.6 329.75,230.2 330.00,228.7 330.25,231.7 330.50,231.3 330.75,228.9 331.00,230.5 331.25,229.7 331.50,230.0 331.75,230.0 332.00,231.8 332.25,230.0 332.50,229.9 332.75,231.0 333.00,230.9 333.25,232.2 333.50,227.7 333.75,230.1 334.00,225.6 334.25,228.7 334.50,226.2 334.75,226.0 335.00,228.0 335.25,226.2 335.50,227.4 335.75,223.9 336.00,230.2 336.25,223.8 336.50,226.6 336.75,230.6 337.00,225.3 337.25,230.5 337.50,229.5 337.75,227.5 338.00,227.1 338.25,227.2 338.50,228.0 338.75,228.5 339.00,227.1 339.25,220.8 339.50,216.9 339.75,210.3 340.00,206.7 340.25,210.4 340.50,217.0 340.75,223.2 341.00,226.1 341.25,229.0 341.50,230.4 341.75,227.7 342.00,228.1 342.25,227.9 342.50,230.9 342.75,228.9 343.00,227.6 343.25,227.0 343.50,226.5 343.75,229.0 344.00,230.0 344.25,230.6 344.50,226.6 344.75,226.5 345.00,226.4 345.25,226.5 345.50,225.3 345.75,230.3 346.00,228.4 346.25,226.7 346.50,223.7 346.75,229.6 347.00,228.6 347.25,227.4 347.50,228.3 347.75,226.0 348.00,227.9 348.25,225.9 348.50,226.2 348.75,222.9 349.00,215.5 349.25,203.5 349.50,188.8 349.75,179.4 349.80,179.0 350.00,183.5 350.25,197.6 350.50,212.0 350.75,220.2 351.00,226.4 351.25,226.0 351.50,226.0 351.75,227.7 352.00,230.8 352.25,226.8 352.50,227.4 352.75,226.1 353.00,228.4 353.25,228.4 353.50,227.9 353.75,227.3 354.00,228.6 354.25,229.3 354.50,227.2 354.75,227.6 355.00,227.0 355.25,227.2 355.50,230.3 355.75,226.6 356.00,228.8 356.25,230.3 356.50,227.8 356.75,229.7 357.00,230.1 357.25,226.4 357.50,230.7 357.75,227.3 358.00,229.3 358.25,226.5 358.50,226.3 358.75,228.7 359.00,232.0 359.25,233.3 359.50,233.3 359.75,231.6 360.00,231.3 360.25,230.5 360.50,230.3 360.75,228.5 361.00,228.3 361.25,229.8 361.50,229.8 361.75,227.9 362.00,226.8 362.25,227.6 362.50,232.9 362.75,227.6 363.00,231.4 363.25,231.0 363.50,230.7 363.75,227.8 364.00,232.4 364.25,229.4 364.50,227.8 364.75,227.7 365.00,228.7 365.25,232.8 365.50,226.7 365.75,227.9 366.00,229.1 366.25,230.0 366.50,227.3 366.75,227.5 367.00,228.3 367.25,230.5 367.50,229.0 367.75,228.9 368.00,229.6 368.25,229.5 368.50,230.9 368.75,227.9 369.00,229.1 369.25,227.9 369.50,230.3 369.75,230.3 370.00,228.3 370.25,230.8 370.50,228.2 370.75,230.9 371.00,227.7 371.25,227.5 371.50,225.5 371.75,226.3 372.00,227.4 372.25,224.3 372.50,227.9 372.75,229.5 373.00,228.9 373.25,228.3 373.50,229.2 373.75,227.0 374.00,227.3 374.25,229.6 374.50,228.0 374.75,230.0 375.00,227.5 375.25,229.6 375.50,230.7 375.75,228.3 376.00,231.6 376.25,231.4 376.50,224.7 376.75,232.7 377.00,225.9 377.25,232.8 377.50,227.2 377.75,225.0 378.00,226.4 378.25,229.6 378.50,227.0 378.75,227.7 379.00,230.7 379.25,226.8 379.50,229.1 379.75,229.7 380.00,224.4 380.25,223.1 380.50,220.8 380.75,217.6 380.90,217.1 381.00,216.3 381.25,219.4 381.50,223.7 381.75,226.7 382.00,229.2 382.25,227.3 382.50,226.8 382.75,226.4 383.00,226.5 383.25,224.5 383.50,231.0 383.75,227.2 384.00,226.7 384.25,226.8 384.50,228.9 384.75,228.1 385.00,226.5 385.25,229.7 385.50,228.4 385.75,227.7 386.00,228.0 386.25,230.2 386.50,229.4 386.75,228.1 387.00,230.2 387.25,224.5 387.50,229.7 387.75,227.0 388.00,227.4 388.25,228.1 388.50,231.9"/>
<path fill="#ff3b3b" stroke="none" d="M61.50,172.0 61.75,171.6 62.00,172.0 62.25,172.0ZM75.75,172.0 76.00,171.2 76.25,171.0 76.50,170.8 76.70,169.9 76.75,170.1 77.00,169.4 77.25,172.0ZM80.00,172.0 80.25,171.2 80.50,171.5 80.75,166.3 81.00,160.9 81.20,159.4 81.25,160.7 81.50,162.7 81.75,169.1 82.00,171.6 82.25,171.5 82.50,172.0ZM124.75,172.0 125.00,168.8 125.25,163.4 125.50,153.9 125.75,143.4 126.00,136.5 126.10,135.6 126.25,137.5 126.50,145.1 126.75,156.4 127.00,165.1 127.25,169.7 127.50,171.0 127.75,172.0ZM129.00,172.0 129.25,171.7 129.50,170.7 129.75,168.0 130.00,167.2 130.25,168.8 130.50,170.8 130.75,172.0ZM132.00,172.0 132.25,171.2 132.50,170.1 132.75,170.0 133.00,172.0ZM137.75,172.0 138.00,167.6 138.25,162.4 138.50,153.5 138.75,141.5 139.00,127.7 139.25,115.2 139.50,107.7 139.60,106.9 139.75,108.8 140.00,117.1 140.25,130.0 140.50,143.8 140.75,154.9 141.00,162.8 141.25,168.0 141.50,169.8 141.75,162.8 142.00,151.1 142.25,135.0 142.50,120.3 142.70,115.5 142.75,116.0 143.00,125.2 143.25,141.4 143.50,155.5 143.75,165.5 144.00,168.0 144.25,169.3ZM151.00,171.2 151.25,167.8 151.50,160.1 151.75,145.5 152.00,126.9 152.25,111.3 152.40,108.1 152.50,109.4 152.75,123.0 153.00,142.2 153.25,158.0 153.50,167.4 153.75,170.9 154.00,172.0ZM157.00,172.0 157.25,170.7 157.50,162.6 157.75,149.6 158.00,139.6 158.10,138.5 158.25,141.1 158.50,151.7 158.75,163.3 159.00,171.0 159.25,172.0ZM171.75,172.0 172.00,169.4 172.25,161.4 172.50,152.4 172.75,146.8 172.80,147.5 173.00,149.4 173.25,157.6 173.50,166.8 173.75,172.0ZM193.25,172.0 193.50,168.5 193.75,162.4 194.00,152.9 194.25,148.0 194.30,147.9 194.50,150.4 194.75,158.7 195.00,165.4 195.25,171.4 195.50,172.0ZM208.00,172.0 208.25,171.5 208.50,169.9 208.75,164.7 209.00,162.8 209.25,165.7 209.50,169.0 209.75,172.0ZM238.75,172.0 239.00,168.9 239.20,169.5 239.25,169.1 239.50,170.3 239.75,172.0ZM251.50,172.0 251.75,171.0 252.00,164.9 252.25,157.9 252.50,154.8 252.75,158.2 253.00,165.3 253.25,169.8 253.50,172.0ZM263.50,172.0 263.75,170.8 264.00,170.3 264.25,169.8 264.50,172.0ZM282.75,170.6 283.00,166.4 283.25,158.0 283.50,150.3 283.70,147.5 283.75,148.4 284.00,153.4 284.25,160.9 284.50,169.0 284.75,169.7ZM287.00,169.0 287.25,167.8 287.50,166.9 287.75,168.6 288.00,168.7ZM295.00,169.3 295.25,169.3 295.50,163.0 295.75,155.3 296.00,149.4 296.10,149.3 296.25,150.5 296.50,156.5 296.75,164.8 297.00,169.5 297.25,170.1ZM298.75,170.8 299.00,169.8 299.25,166.7 299.50,166.7 299.75,167.7 300.00,170.8 300.25,171.6ZM306.50,168.8 306.75,164.0 307.00,154.4 307.25,144.5 307.50,139.4 307.75,144.2 308.00,153.8 308.25,161.7 308.50,168.0 308.75,168.0ZM311.50,168.8 311.75,167.0 312.00,167.4 312.25,168.0 312.50,169.6ZM339.25,172.0 339.50,167.2 339.75,164.4 340.00,163.2 340.25,165.8 340.50,168.2 340.75,172.0ZM350.25,168.6 350.50,165.6 350.75,160.3 351.00,152.6 351.25,147.8 351.30,148.0 351.50,150.1 351.75,157.5 352.00,164.9 352.25,168.7ZM381.75,172.0 382.00,169.9 382.25,168.4 382.30,168.0 382.50,169.4 382.75,171.3 383.00,172.0Z"/>
<polyline fill="none" stroke="#ff3b3b" points="52.50,176.3 52.75,176.0 53.00,179.9 53.25,177.1 53.50,176.6 53.75,178.9 54.00,177.8 54.25,172.7 54.50,176.2 54.75,177.2 55.00,174.8 55.25,176.3 55.50,174.9 55.75,176.3 56.00,172.7 56.25,172.1 56.50,174.5 56.75,175.8 57.00,177.7 57.25,174.8 57.50,174.0 57.75,176.9 58.00,175.3 58.25,178.4 58.50,175.0 58.75,171.7 59.00,173.7 59.25,173.4 59.50,172.5 59.75,173.6 60.00,173.7 60.25,174.4 60.50,173.9 60.75,175.6 61.00,175.6 61.25,175.2 61.50,175.3 61.75,171.6 62.00,172.0 62.25,173.4 62.50,175.4 62.75,172.4 63.00,174.3 63.25,175.5 63.50,178.7 63.75,175.7 64.00,174.3 64.25,177.3 64.50,175.9 64.75,175.1 65.00,177.7 65.25,174.2 65.50,176.3 65.75,176.3 66.00,177.9 66.25,174.4 66.50,174.2 66.75,175.9 67.00,176.2 67.25,176.8 67.50,176.1 67.75,177.5 68.00,178.0 68.25,177.1 68.50,174.7 68.75,178.6 69.00,173.7 69.25,175.9 69.50,177.7 69.75,174.9 70.00,178.2 70.25,179.1 70.50,178.4 70.75,176.2 71.00,177.1 71.25,174.3 71.50,175.8 71.75,175.9 72.00,175.1 72.25,175.2 72.50,174.5 72.75,171.4 73.00,175.6 73.25,175.4 73.50,178.5 73.75,176.1 74.00,175.0 74.25,176.5 74.50,176.0 74.75,174.9 75.00,174.3 75.25,172.4 75.50,175.0 75.75,176.7 76.00,171.2 76.25,171.0 76.50,170.8 76.70,169.9 76.75,170.1 77.00,169.4 77.25,172.1 77.50,174.9 77.75,176.0 78.00,176.0 78.25,174.2 78.50,176.8 78.75,173.8 79.00,174.2 79.25,173.8 79.50,178.1 79.75,174.9 80.00,175.1 80.25,171.2 80.50,171.5 80.75,166.3 81.00,160.9 81.20,159.4 81.25,160.7 81.50,162.7 81.75,169.1 82.00,171.6 82.25,171.5 82.50,176.9 82.75,176.4 83.00,176.9 83.25,175.0 83.50,175.6 83.75,177.8 84.00,174.8 84.25,172.9 84.50,178.0 84.75,175.4 85.00,178.9 85.25,175.9 85.50,176.0 85.75,176.4 86.00,172.9 86.25,178.9 86.50,175.8 86.75,176.5 87.00,179.4 87.25,177.0 87.50,178.3 87.75,177.3 88.00,178.0 88.25,177.0 88.50,178.5 88.75,176.0 89.00,177.1 89.25,174.9 89.50,178.2 89.75,172.1 90.00,176.2 90.25,176.5 90.50,176.4 90.75,175.7 91.00,178.1 91.25,179.5 91.50,174.5 91.75,172.2 92.00,173.6 92.25,174.1 92.50,175.3 92.75,175.5 93.00,177.5 93.25,174.8 93.50,175.5 93.75,175.8 94.00,174.1 94.25,175.2 94.50,179.8 94.75,175.7 95.00,174.2 95.25,172.0 95.50,177.9 95.75,175.5 96.00,175.0 96.25,180.3 96.50,178.9 96.75,173.3 97.00,175.9 97.25,178.3 97.50,178.1 97.75,174.6 98.00,179.8 98.25,180.0 98.50,174.6 98.75,173.4 99.00,174.1 99.25,177.7 99.50,178.4 99.75,176.7 100.00,175.3 100.25,176.1 100.50,177.2 100.75,173.9 101.00,173.0 101.25,175.8 101.50,178.2 101.75,176.3 102.00,176.3 102.25,174.8 102.50,177.7 102.75,173.0 103.00,176.1 103.25,175.2 103.50,176.1 103.75,174.8 104.00,177.9 104.25,176.6 104.50,175.7 104.75,177.8 105.00,176.8 105.25,176.0 105.50,175.9 105.75,178.4 106.00,175.2 106.25,176.5 106.50,176.4 106.75,177.3 107.00,176.4 107.25,180.5 107.50,173.4 107.75,177.4 108.00,176.2 108.25,178.1 108.50,173.1 108.75,178.1 109.00,173.3 109.25,176.9 109.50,176.5 109.75,175.6 110.00,174.2 110.25,174.1 110.50,175.7 110.75,174.2 111.00,172.1 111.25,172.4 111.50,177.1 111.75,177.1 112.00,176.6 112.25,175.8 112.50,176.3 112.75,176.6 113.00,176.1 113.25,174.2 113.50,174.3 113.75,173.6 114.00,175.9 114.25,173.9 114.50,175.4 114.75,178.1 115.00,175.2 115.25,177.7 115.50,178.8 115.75,172.9 116.00,173.7 116.25,177.2 116.50,175.1 116.75,177.4 117.00,177.7 117.25,175.6 117.50,178.0 117.75,179.6 118.00,178.1 118.25,174.9 118.50,176.1 118.75,175.4 119.00,179.1 119.25,175.9 119.50,175.0 119.75,176.3 120.00,177.0 120.25,175.4 120.50,176.2 120.75,176.0 121.00,177.2 121.25,177.5 121.50,176.2 121.75,174.9 122.00,176.3 122.25,174.0 122.50,177.2 122.75,175.9 123.00,175.6 123.25,171.5 123.50,178.6 123.75,177.2 124.00,176.7 124.25,174.7 124.50,174.8 124.75,174.7 125.00,168.8 125.25,163.4 125.50,153.9 125.75,143.4 126.00,136.5 126.10,135.6 126.25,137.5 126.50,145.1 126.75,156.4 127.00,165.1 127.25,169.7 127.50,171.0 127.75,174.7 128.00,175.8 128.25,173.7 128.50,178.0 128.75,175.8 129.00,174.0 129.25,171.7 129.50,170.7 129.75,168.0 130.00,167.2 130.25,168.8 130.50,170.8 130.75,173.6 131.00,176.6 131.25,176.2 131.50,174.6 131.75,174.9 132.00,172.1 132.25,171.2 132.50,170.1 132.75,170.0 133.00,173.3 133.25,174.4 133.50,176.4 133.75,173.6 134.00,177.7 134.25,177.7 134.50,175.2 134.75,175.6 135.00,175.8 135.25,175.7 135.50,177.0 135.75,174.5 136.00,173.8 136.25,175.0 136.50,177.9 136.75,174.4 137.00,173.3 137.25,172.9 137.50,173.3 137.75,172.4 138.00,167.6 138.25,162.4 138.50,153.5 138.75,141.5 139.00,127.7 139.25,115.2 139.50,107.7 139.60,106.9 139.75,108.8 140.00,117.1 140.25,130.0 140.50,143.8 140.75,154.9 141.00,162.8 141.25,168.0 141.50,169.8 141.75,162.8 142.00,151.1 142.25,135.0 142.50,120.3 142.70,115.5 142.75,116.0 143.00,125.2 143.25,141.4 143.50,155.5 143.75,165.5 144.00,168.0 144.25,171.8 144.50,172.8 144.75,171.3 145.00,170.8 145.25,173.3 145.50,171.5 145.75,171.3 146.00,172.8 146.25,171.1 146.50,172.8 146.75,176.6 147.00,172.5 147.25,175.0 147.50,171.7 147.75,173.8 148.00,173.3 148.25,173.5 148.50,175.1 148.75,177.5 149.00,173.8 149.25,176.2 149.50,174.7 149.75,175.3 150.00,173.4 150.25,173.1 150.50,173.7 150.75,172.5 151.00,172.1 151.25,167.8 151.50,160.1 151.75,145.5 152.00,126.9 152.25,111.3 152.40,108.1 152.50,109.4 152.75,123.0 153.00,142.2 153.25,158.0 153.50,167.4 153.75,170.9 154.00,174.4 154.25,177.8 154.50,175.3 154.75,176.4 155.00,176.5 155.25,176.7 155.50,177.2 155.75,172.7 156.00,175.7 156.25,176.4 156.50,175.4 156.75,176.8 157.00,173.3 157.25,170.7 157.50,162.6 157.75,149.6 158.00,139.6 158.10,138.5 158.25,141.1 158.50,151.7 158.75,163.3 159.00,171.0 159.25,175.4 159.50,176.3 159.75,174.6 160.00,178.7 160.25,176.5 160.50,175.4 160.75,177.5 161.00,178.9 161.25,176.6 161.50,174.1 161.75,175.7 162.00,176.8 162.25,178.2 162.50,174.8 162.75,176.9 163.00,174.3 163.25,176.5 163.50,173.9 163.75,175.4 164.00,173.5 164.25,174.5 164.50,173.4 164.75,172.8 165.00,178.5 165.25,178.5 165.50,177.3 165.75,175.9 166.00,179.2 166.25,176.2 166.50,177.5 166.75,178.8 167.00,177.2 167.25,179.4 167.50,176.5 167.75,176.5 168.00,177.0 168.25,174.7 168.50,174.7 168.75,178.0 169.00,173.5 169.25,178.4 169.50,176.8 169.75,178.3 170.00,177.5 170.25,177.1 170.50,179.0 170.75,175.8 171.00,175.7 171.25,177.3 171.50,174.1 171.75,174.3 172.00,169.4 172.25,161.4 172.50,152.4 172.75,146.8 172.80,147.5 173.00,149.4 173.25,157.6 173.50,166.8 173.75,172.2 174.00,174.7 174.25,175.5 174.50,175.0 174.75,174.2 175.00,174.5 175.25,176.7 175.50,177.5 175.75,177.6 176.00,175.5 176.25,171.6 176.50,176.4 176.75,175.2 177.00,171.4 177.25,177.9 177.50,175.8 177.75,175.3 178.00,175.7 178.25,175.6 178.50,175.7 178.75,175.5 179.00,175.3 179.25,176.2 179.50,175.8 179.75,179.0 180.00,175.4 180.25,174.2 180.50,174.0 180.75,175.8 181.00,175.3 181.25,175.6 181.50,174.9 181.75,175.0 182.00,176.8 182.25,178.0 182.50,176.3 182.75,175.6 183.00,173.8 183.25,173.9 183.50,176.1 183.75,175.6 184.00,175.9 184.25,174.1 184.50,175.8 184.75,172.5 185.00,173.8 185.25,174.5 185.50,177.0 185.75,174.8 186.00,174.2 186.25,176.4 186.50,175.7 186.75,177.6 187.00,176.5 187.25,176.3 187.50,175.6 187.75,177.1 188.00,174.6 188.25,173.2 188.50,177.5 188.75,175.0 189.00,175.8 189.25,176.7 189.50,177.3 189.75,171.5 190.00,173.4 190.25,177.3 190.50,172.1 190.75,175.8 191.00,174.3 191.25,173.4 191.50,174.7 191.75,172.0 192.00,175.5 192.25,176.7 192.50,172.5 192.75,173.6 193.00,175.7 193.25,172.9 193.50,168.5 193.75,162.4 194.00,152.9 194.25,148.0 194.30,147.9 194.50,150.4 194.75,158.7 195.00,165.4 195.25,171.4 195.50,172.7 195.75,176.3 196.00,176.5 196.25,173.8 196.50,173.4 196.75,175.3 197.00,174.0 197.25,174.6 197.50,176.5 197.75,175.0 198.00,179.1 198.25,176.1 198.50,175.1 198.75,174.1 199.00,175.2 199.25,178.1 199.50,177.1 199.75,178.6 200.00,178.4 200.25,177.0 200.50,174.8 200.75,175.7 201.00,176.1 201.25,173.0 201.50,176.6 201.75,174.2 202.00,175.9 202.25,175.2 202.50,177.2 202.75,180.3 203.00,174.2 203.25,176.4 203.50,180.2 203.75,174.9 204.00,176.2 204.25,176.5 204.50,177.3 204.75,173.9 205.00,177.3 205.25,177.9 205.50,180.8 205.75,176.7 206.00,175.9 206.25,177.1 206.50,173.0 206.75,177.5 207.00,179.5 207.25,176.7 207.50,176.5 207.75,175.8 208.00,175.2 208.25,171.5 208.50,169.9 208.75,164.7 209.00,162.8 209.25,165.7 209.50,169.0 209.75,172.3 210.00,177.1 210.25,176.3 210.50,178.0 210.75,175.6 211.00,173.6 211.25,176.9 211.50,179.1 211.75,175.8 212.00,177.3 212.25,177.9 212.50,177.0 212.75,176.7 213.00,177.9 213.25,176.9 213.50,175.5 213.75,178.4 214.00,177.9 214.25,177.1 214.50,177.7 214.75,172.3 215.00,176.7 215.25,176.2 215.50,172.5 215.75,179.7 216.00,176.6 216.25,175.1 216.50,175.1 216.75,176.2 217.00,175.7 217.25,172.8 217.50,175.0 217.75,176.5 218.00,176.8 218.25,177.2 218.50,173.7 218.75,174.5 219.00,176.3 219.25,174.5 219.50,175.9 219.75,174.0 220.00,176.5 220.25,175.5 220.50,176.4 220.75,175.3 221.00,173.8 221.25,173.0 221.50,175.2 221.75,174.0 222.00,172.4 222.25,174.1 222.50,176.6 222.75,177.5 223.00,176.7 223.25,177.8 223.50,174.8 223.75,175.3 224.00,173.9 224.25,174.4 224.50,178.8 224.75,176.7 225.00,177.1 225.25,179.9 225.50,179.5 225.75,174.5 226.00,177.9 226.25,174.7 226.50,177.9 226.75,172.7 227.00,174.4 227.25,174.5 227.50,179.7 227.75,172.9 228.00,178.2 228.25,178.2 228.50,176.5 228.75,177.8 229.00,180.2 229.25,176.9 229.50,176.0 229.75,179.0 230.00,178.0 230.25,174.6 230.50,177.0 230.75,177.2 231.00,174.6 231.25,175.0 231.50,175.5 231.75,174.6 232.00,177.7 232.25,177.3 232.50,172.7 232.75,175.9 233.00,177.0 233.25,174.2 233.50,176.2 233.75,177.2 234.00,173.6 234.25,176.1 234.50,172.5 234.75,178.0 235.00,175.2 235.25,173.9 235.50,173.1 235.75,173.5 236.00,178.7 236.25,174.8 236.50,175.2 236.75,175.5 237.00,173.5 237.25,177.5 237.50,172.2 237.75,177.5 238.00,174.5 238.25,175.2 238.50,174.1 238.75,172.5 239.00,168.9 239.20,169.5 239.25,169.1 239.50,170.3 239.75,172.3 240.00,175.8 240.25,176.1 240.50,178.0 240.75,177.6 241.00,172.5 241.25,175.8 241.50,177.8 241.75,174.3 242.00,172.8 242.25,171.8 242.50,179.3 242.75,173.9 243.00,175.8 243.25,173.4 243.50,176.0 243.75,178.2 244.00,172.5 244.25,175.0 244.50,173.7 244.75,171.7 245.00,173.6 245.25,175.3 245.50,177.7 245.75,177.8 246.00,175.6 246.25,172.7 246.50,177.1 246.75,176.0 247.00,176.1 247.25,174.1 247.50,176.0 247.75,179.9 248.00,179.1 248.25,178.8 248.50,177.7 248.75,175.9 249.00,176.6 249.25,176.9 249.50,177.4 249.75,176.1 250.00,175.2 250.25,178.7 250.50,176.1 250.75,178.1 251.00,176.2 251.25,176.8 251.50,174.7 251.75,171.0 252.00,164.9 252.25,157.9 252.50,154.8 252.75,158.2 253.00,165.3 253.25,169.8 253.50,173.1 253.75,178.9 254.00,174.0 254.25,175.7 254.50,176.0 254.75,175.5 255.00,175.4 255.25,178.4 255.50,176.8 255.75,176.7 256.00,173.3 256.25,177.7 256.50,176.5 256.75,176.4 257.00,177.5 257.25,176.5 257.50,175.8 257.75,176.5 258.00,174.4 258.25,174.0 258.50,173.1 258.75,177.3 259.00,174.3 259.25,175.8 259.50,177.5 259.75,178.7 260.00,174.8 260.25,175.8 260.50,175.7 260.75,173.1 261.00,174.7 261.25,179.5 261.50,175.5 261.75,178.8 262.00,176.9 262.25,178.6 262.50,177.7 262.75,175.5 263.00,172.8 263.25,175.6 263.50,172.9 263.75,170.8 264.00,170.3 264.25,169.8 264.50,172.2 264.75,173.5 265.00,172.0 265.25,172.5 265.50,174.5 265.75,170.9 266.00,176.2 266.25,176.3 266.50,174.9 266.75,175.6 267.00,171.9 267.25,175.6 267.50,176.7 267.75,176.3 268.00,177.2 268.25,175.4 268.50,179.2 268.75,176.4 269.00,177.0 269.25,177.5 269.50,174.1 269.75,173.5 270.00,177.0 270.25,173.3 270.50,174.5 270.75,177.4 271.00,173.7 271.25,173.9 271.50,173.4 271.75,173.9 272.00,179.2 272.25,176.8 272.50,177.6 272.75,172.4 273.00,172.0 273.25,173.9 273.50,177.9 273.75,178.2 274.00,172.5 274.25,173.0 274.50,177.4 274.75,176.8 275.00,177.1 275.25,177.6 275.50,174.5 275.75,176.6 276.00,175.8 276.25,178.5 276.50,175.7 276.75,172.7 277.00,178.4 277.25,179.3 277.50,177.7 277.75,175.3 278.00,174.1 278.25,177.5 278.50,174.7 278.75,176.5 279.00,177.0 279.25,175.3 279.50,172.0 279.75,176.5 280.00,173.8 280.25,172.7 280.50,175.3 280.75,175.5 281.00,175.0 281.25,176.1 281.50,171.7 281.75,175.7 282.00,177.2 282.25,174.1 282.50,172.6 282.75,170.6 283.00,166.4 283.25,158.0 283.50,150.3 283.70,147.5 283.75,148.4 284.00,153.4 284.25,160.9 284.50,169.0 284.75,170.9 285.00,173.9 285.25,171.4 285.50,172.0 285.75,173.7 286.00,174.5 286.25,174.6 286.50,171.6 286.75,171.1 287.00,169.9 287.25,167.8 287.50,166.9 287.75,168.6 288.00,170.9 288.25,169.1 288.50,174.4 288.75,173.2 289.00,173.6 289.25,173.6 289.50,174.7 289.75,174.3 290.00,170.2 290.25,174.6 290.50,171.0 290.75,173.7 291.00,173.4 291.25,170.3 291.50,173.1 291.75,172.6 292.00,171.9 292.25,176.7 292.50,173.4 292.75,172.4 293.00,176.1 293.25,173.0 293.50,172.8 293.75,169.5 294.00,173.9 294.25,174.5 294.50,175.7 294.75,170.7 295.00,172.3 295.25,169.3 295.50,163.0 295.75,155.3 296.00,149.4 296.10,149.3 296.25,150.5 296.50,156.5 296.75,164.8 297.00,169.5 297.25,171.9 297.50,176.2 297.75,172.9 298.00,170.5 298.25,170.4 298.50,174.3 298.75,172.2 299.00,169.8 299.25,166.7 299.50,166.7 299.75,167.7 300.00,170.8 300.25,172.2 300.50,173.4 300.75,175.3 301.00,174.4 301.25,176.4 301.50,172.1 301.75,173.8 302.00,178.3 302.25,176.6 302.50,174.4 302.75,176.1 303.00,175.5 303.25,175.7 303.50,178.7 303.75,175.2 304.00,176.1 304.25,174.0 304.50,173.9 304.75,172.3 305.00,173.6 305.25,173.7 305.50,173.5 305.75,173.7 306.00,173.2 306.25,172.7 306.50,168.9 306.75,164.0 307.00,154.4 307.25,144.5 307.50,139.4 307.75,144.2 308.00,153.8 308.25,161.7 308.50,168.0 308.75,170.2 309.00,169.1 309.25,170.0 309.50,170.7 309.75,175.5 310.00,172.4 310.25,175.1 310.50,173.7 310.75,173.9 311.00,173.0 311.25,169.0 311.50,170.6 311.75,167.0 312.00,167.4 312.25,168.0 312.50,171.7 312.75,173.4 313.00,175.9 313.25,174.6 313.50,174.2 313.75,175.9 314.00,178.8 314.25,176.2 314.50,175.7 314.75,173.8 315.00,175.0 315.25,176.3 315.50,177.7 315.75,177.7 316.00,176.5 316.25,176.9 316.50,179.5 316.75,180.1 317.00,178.9 317.25,179.5 317.50,179.0 317.75,180.0 318.00,174.3 318.25,175.6 318.50,176.9 318.75,177.1 319.00,178.8 319.25,173.0 319.50,176.5 319.75,176.7 320.00,175.0 320.25,175.9 320.50,177.9 320.75,176.9 321.00,175.8 321.25,176.4 321.50,175.8 321.75,177.7 322.00,175.8 322.25,177.7 322.50,174.9 322.75,175.8 323.00,173.8 323.25,175.3 323.50,177.2 323.75,173.7 324.00,174.9 324.25,175.7 324.50,174.8 324.75,176.9 325.00,173.2 325.25,177.0 325.50,177.8 325.75,178.5 326.00,175.5 326.25,174.3 326.50,173.0 326.75,177.2 327.00,177.6 327.25,176.8 327.50,177.0 327.75,177.7 328.00,176.0 328.25,174.1 328.50,174.3 328.75,175.5 329.00,175.3 329.25,174.1 329.50,176.2 329.75,175.1 330.00,178.1 330.25,176.7 330.50,178.2 330.75,174.3 331.00,174.7 331.25,173.7 331.50,177.1 331.75,180.5 332.00,176.9 332.25,175.7 332.50,176.9 332.75,176.5 333.00,178.3 333.25,176.5 333.50,175.0 333.75,173.1 334.00,177.2 334.25,178.4 334.50,176.8 334.75,175.0 335.00,175.8 335.25,176.0 335.50,177.6 335.75,176.4 336.00,178.5 336.25,176.0 336.50,175.2 336.75,179.6 337.00,174.5 337.25,174.8 337.50,179.8 337.75,176.6 338.00,179.1 338.25,172.1 338.50,177.8 338.75,175.4 339.00,174.5 339.25,172.7 339.50,167.2 339.75,164.4 340.00,163.2 340.25,165.8 340.50,168.2 340.75,174.2 341.00,175.0 341.25,176.7 341.50,173.9 341.75,176.6 342.00,174.2 342.25,173.6 342.50,178.0 342.75,174.6 343.00,175.0 343.25,177.2 343.50,174.6 343.75,173.9 344.00,176.6 344.25,176.8 344.50,179.2 344.75,174.6 345.00,178.0 345.25,177.8 345.50,175.6 345.75,175.9 346.00,176.1 346.25,174.0 346.50,173.3 346.75,176.7 347.00,173.3 347.25,173.2 347.50,176.1 347.75,173.4 348.00,173.4 348.25,171.3 348.50,171.4 348.75,170.8 349.00,170.6 349.25,174.8 349.50,170.9 349.75,168.7 350.00,170.0 350.25,170.8 350.50,165.6 350.75,160.3 351.00,152.6 351.25,147.8 351.30,148.0 351.50,150.1 351.75,157.5 352.00,164.9 352.25,169.0 352.50,174.2 352.75,170.6 353.00,174.8 353.25,173.5 353.50,175.4 353.75,174.1 354.00,169.6 354.25,172.9 354.50,175.4 354.75,173.7 355.00,171.5 355.25,173.0 355.50,174.7 355.75,176.5 356.00,173.4 356.25,174.9 356.50,173.3 356.75,173.1 357.00,174.6 357.25,178.0 357.50,176.9 357.75,175.2 358.00,175.7 358.25,176.7 358.50,175.6 358.75,175.1 359.00,175.4 359.25,177.1 359.50,175.3 359.75,177.4 360.00,172.6 360.25,174.6 360.50,175.2 360.75,177.0 361.00,174.2 361.25,174.9 361.50,176.3 361.75,175.5 362.00,174.4 362.25,175.0 362.50,173.9 362.75,177.0 363.00,176.4 363.25,177.1 363.50,179.7 363.75,177.9 364.00,176.6 364.25,175.6 364.50,179.9 364.75,176.4 365.00,175.6 365.25,178.4 365.50,176.9 365.75,175.7 366.00,177.0 366.25,179.7 366.50,176.5 366.75,176.9 367.00,174.6 367.25,175.3 367.50,177.8 367.75,176.0 368.00,176.3 368.25,178.0 368.50,175.3 368.75,178.7 369.00,174.6 369.25,174.3 369.50,174.2 369.75,172.9 370.00,176.5 370.25,175.5 370.50,178.0 370.75,174.2 371.00,176.9 371.25,178.0 371.50,175.3 371.75,175.5 372.00,171.7 372.25,179.4 372.50,175.8 372.75,177.3 373.00,175.1 373.25,176.7 373.50,174.1 373.75,177.5 374.00,176.3 374.25,175.4 374.50,176.9 374.75,172.9 375.00,176.4 375.25,175.3 375.50,178.8 375.75,177.6 376.00,175.9 376.25,175.7 376.50,180.2 376.75,174.5 377.00,179.8 377.25,178.1 377.50,177.8 377.75,173.1 378.00,178.0 378.25,175.7 378.50,175.0 378.75,177.8 379.00,175.5 379.25,177.8 379.50,175.2 379.75,177.9 380.00,177.7 380.25,175.4 380.50,175.2 380.75,175.6 381.00,175.7 381.25,175.1 381.50,177.0 381.75,173.0 382.00,169.9 382.25,168.4 382.30,168.0 382.50,169.4 382.75,171.3 383.00,172.9 383.25,174.1 383.50,175.0 383.75,174.1 384.00,176.1 384.25,174.4 384.50,176.9 384.75,175.4 385.00,177.0 385.25,175.1 385.50,172.8 385.75,173.8 386.00,175.7 386.25,176.9 386.50,177.0 386.75,177.2 387.00,177.5 387.25,176.9 387.50,177.0 387.75,175.8 388.00,177.2 388.25,175.9 388.50,176.0"/>
</g>
<line x1="138.9" y1="108" x2="138.9" y2="98" stroke="#ff9a9a" stroke-width="1.1"/>
<g fill="#000">
<path d="M135.8,88.1 Q139.5,90.9 143.2,88.1 Q140.4,91.8 143.2,95.5 Q139.5,92.7 135.8,95.5 Q138.6,91.8 135.8,88.1Z"/>
<path d="M150.8,98.9 Q154.5,101.7 158.2,98.9 Q155.4,102.6 158.2,106.3 Q154.5,103.5 150.8,106.3 Q153.6,102.6 150.8,98.9Z"/>
<path d="M122.5,127.0 Q126.2,129.8 129.9,127.0 Q127.1,130.7 129.9,134.4 Q126.2,131.6 122.5,134.4 Q125.3,130.7 122.5,127.0Z"/>
<path d="M155.7,127.7 Q159.4,130.5 163.1,127.7 Q160.3,131.4 163.1,135.1 Q159.4,132.3 155.7,135.1 Q158.5,131.4 155.7,127.7Z"/>
<path d="M127.0,156.8 Q130.7,159.6 134.4,156.8 Q131.6,160.5 134.4,164.2 Q130.7,161.4 127.0,164.2 Q129.8,160.5 127.0,156.8Z"/>
<path d="M169.1,137.4 Q172.8,140.2 176.5,137.4 Q173.7,141.1 176.5,144.8 Q172.8,142.0 169.1,144.8 Q171.9,141.1 169.1,137.4Z"/>
<path d="M190.6,139.8 Q194.3,142.6 198.0,139.8 Q195.2,143.5 198.0,147.2 Q194.3,144.4 190.6,147.2 Q193.4,143.5 190.6,139.8Z"/>
<path d="M205.5,152.9 Q209.2,155.7 212.9,152.9 Q210.1,156.6 212.9,160.3 Q209.2,157.5 205.5,160.3 Q208.3,156.6 205.5,152.9Z"/>
<path d="M280.2,141.0 Q283.9,143.8 287.6,141.0 Q284.8,144.7 287.6,148.4 Q283.9,145.6 280.2,148.4 Q283.0,144.7 280.2,141.0Z"/>
<path d="M292.4,143.4 Q296.1,146.2 299.8,143.4 Q297.0,147.1 299.8,150.8 Q296.1,148.0 292.4,150.8 Q295.2,147.1 292.4,143.4Z"/>
<path d="M304.5,135.8 Q308.2,138.6 311.9,135.8 Q309.1,139.5 311.9,143.2 Q308.2,140.4 304.5,143.2 Q307.3,139.5 304.5,135.8Z"/>
<path d="M347.1,142.9 Q350.8,145.7 354.5,142.9 Q351.7,146.6 354.5,150.3 Q350.8,147.5 347.1,150.3 Q349.9,146.6 347.1,142.9Z"/>
<path d="M76.3,151.7 L86.9,151.7 L81.6,160.9Z"/>
<path d="M137.6,131.0 L148.2,131.0 L142.9,140.2Z"/>
<path d="M247.0,145.3 L257.6,145.3 L252.3,154.5Z"/>
<path d="M299.9,155.8 L310.5,155.8 L305.2,165.0Z"/>
<path d="M335.1,153.6 L345.7,153.6 L340.4,162.8Z"/>
<path d="M76.3,197.5 L86.9,197.5 L81.6,206.7Z"/>
<path d="M137.4,187.5 L148.0,187.5 L142.7,196.7Z"/>
<path d="M247.4,192.7 L258.0,192.7 L252.7,201.9Z"/>
<path d="M296.9,206.6 L307.5,206.6 L302.2,215.8Z"/>
<path d="M334.9,196.5 L345.5,196.5 L340.2,205.7Z"/>
<path d="M77.3,260.4 L87.9,260.4 L82.6,269.6Z"/>
<path d="M136.4,246.1 L147.0,246.1 L141.7,255.3Z"/>
<path d="M247.0,255.4 L257.6,255.4 L252.3,264.6Z"/>
<path d="M295.9,252.6 L306.5,252.6 L301.2,261.8Z"/>
<path d="M334.0,260.5 L344.6,260.5 L339.3,269.7Z"/>
<path d="M76.9,311.0 L87.5,311.0 L82.2,320.2Z"/>
<path d="M136.4,293.1 L147.0,293.1 L141.7,302.3Z"/>
<path d="M246.6,309.6 L257.2,309.6 L251.9,318.8Z"/>
<path d="M294.4,302.4 L305.0,302.4 L299.7,311.6Z"/>
<path d="M334.1,312.3 L344.7,312.3 L339.4,321.5Z"/>
<path d="M75.9,363.2 L86.5,363.2 L81.2,372.4Z"/>
<path d="M136.4,352.0 L147.0,352.0 L141.7,361.2Z"/>
<path d="M246.0,364.2 L256.6,364.2 L251.3,373.4Z"/>
<path d="M292.8,355.8 L303.4,355.8 L298.1,365.0Z"/>
<path d="M332.9,362.7 L343.5,362.7 L338.2,371.9Z"/>
<circle cx="76.1" cy="164.2" r="4.1"/>
<circle cx="238.8" cy="163.8" r="4.1"/>
<circle cx="76.1" cy="214.2" r="4.1"/>
<circle cx="236.8" cy="213.8" r="4.1"/>
<circle cx="74.7" cy="266.2" r="4.1"/>
<circle cx="235.8" cy="268.8" r="4.1"/>
<circle cx="73.7" cy="316.2" r="4.1"/>
<circle cx="235.2" cy="317.2" r="4.1"/>
<circle cx="72.7" cy="371.8" r="4.1"/>
<circle cx="235.2" cy="373.3" r="4.1"/>
</g>
<rect x="49.9" y="4.1" width="342.1" height="397" fill="none" stroke="#000" stroke-width="1.6"/>
<g font-family="'Liberation Serif', 'Times New Roman', serif" font-weight="bold" fill="#000" stroke="#000" stroke-width="0.3" stroke-linejoin="round">
<text x="52.9" y="421.3" font-size="15.5" text-anchor="middle">20</text>
<text x="120.0" y="421.3" font-size="15.5" text-anchor="middle">30</text>
<text x="187.2" y="421.3" font-size="15.5" text-anchor="middle">40</text>
<text x="254.3" y="421.3" font-size="15.5" text-anchor="middle">50</text>
<text x="321.5" y="421.3" font-size="15.5" text-anchor="middle">60</text>
<text x="388.8" y="421.3" font-size="15.5" text-anchor="middle">70</text>
<text x="45" y="391.2" font-size="15.5" text-anchor="end">0</text>
<text x="45" y="326.1" font-size="15.5" text-anchor="end">5</text>
<text x="45" y="260.8" font-size="15.5" text-anchor="end">10</text>
<text x="45" y="195.3" font-size="15.5" text-anchor="end">15</text>
<text x="45" y="130.0" font-size="15.5" text-anchor="end">20</text>
<text x="4.3" y="67.6" font-size="15.5">25x10<tspan font-size="9.4" x="40.2" y="58.2">3</tspan></text>
<text x="187" y="437.5" font-size="15.5" textLength="68" lengthAdjust="spacingAndGlyphs">2θ (degree)</text>
<text transform="translate(18.4,188) rotate(-90)" font-size="15.5" text-anchor="middle">Intensity (a.u.)</text>
<text x="52.2" y="21.9" font-size="13.6">(c) Sr<tspan font-size="10.5" dy="3.1">0.82</tspan><tspan dy="-3.1">Gd</tspan><tspan font-size="10.5" dy="3.1">0.18</tspan><tspan dy="-3.1">Fe</tspan><tspan font-size="10.5" dy="3.1">12-x</tspan><tspan dy="-3.1">Al</tspan><tspan font-size="10.5" dy="3.1">x</tspan><tspan dy="-3.1">O</tspan><tspan font-size="10.5" dy="3.1">19</tspan></text>
<text x="81.6" y="41.1" font-size="13.6">SrFe<tspan font-size="10.5" dy="3.1">12</tspan><tspan dy="-3.1">O</tspan><tspan font-size="10.5" dy="3.1">19</tspan></text>
<text x="81.7" y="54.1" font-size="13.6">Fe<tspan font-size="10.5" dy="3.1">2</tspan><tspan dy="-3.1">O</tspan><tspan font-size="10.5" dy="3.1">3</tspan></text>
<text x="82.1" y="75.1" font-size="13.6">GdFeO<tspan font-size="10.5" dy="3.1">3</tspan></text>
<text y="162.9" font-size="14"><tspan x="354.6" font-style="italic">x</tspan><tspan x="364.8">=</tspan><tspan x="374.8">2.0</tspan></text>
<text y="214.2" font-size="14"><tspan x="352.0" font-style="italic">x</tspan><tspan x="362.2">=</tspan><tspan x="372.2">1.5</tspan></text>
<text y="267.8" font-size="14"><tspan x="352.0" font-style="italic">x</tspan><tspan x="362.2">=</tspan><tspan x="372.2">1.0</tspan></text>
<text y="315.6" font-size="14"><tspan x="351.3" font-style="italic">x</tspan><tspan x="361.5">=</tspan><tspan x="371.5">0.5</tspan></text>
<text y="368.3" font-size="14"><tspan x="349.8" font-style="italic">x</tspan><tspan x="360.0">=</tspan><tspan x="370.0">0.0</tspan></text>
</g>
<g fill="#000">
<path d="M61.3,33.0 Q65.0,35.8 68.7,33.0 Q65.9,36.7 68.7,40.4 Q65.0,37.6 61.3,40.4 Q64.1,36.7 61.3,33.0Z"/>
<path d="M59.9,47.1 L70.1,47.1 L65.0,56.1Z"/>
<circle cx="66.1" cy="70.7" r="4.4"/>
</g>
<rect x="225.1" y="8.3" width="162.9" height="105.9" fill="#fff" stroke="#000" stroke-width="1.2"/>
<g fill="none" stroke-width="1.9" stroke-linejoin="round">
<polyline stroke="#c800aa" points="226.0,105.1 227.0,105.1 228.0,104.9 229.0,105.1 230.0,102.9 231.0,101.0 232.0,94.0 232.5,90.3 233.0,85.5 234.0,75.8 235.0,71.9 235.3,70.7 236.0,71.8 236.5,72.5 237.0,76.0 238.0,83.6 239.0,94.8 239.5,99.4 240.0,102.1 240.8,105.6 241.0,105.2 242.0,105.5 243.0,105.9 244.0,106.7 245.0,106.5 246.0,106.0 247.0,106.6 248.0,107.2 249.0,107.3 250.0,107.2 251.0,106.9 252.0,106.3 253.0,107.0 254.0,106.8 255.0,106.9 256.0,107.3 257.0,106.9 258.0,107.0 259.0,107.2 260.0,107.0 261.0,106.9 262.0,106.9 263.0,107.3 264.0,107.0 265.0,106.5 266.0,106.9 267.0,106.4 268.0,105.7 269.0,106.0 270.0,105.3 271.0,104.5 272.0,104.7 273.0,103.8 274.0,103.2 275.0,102.9 275.2,101.8 276.0,102.4 277.0,103.1 278.0,103.7 279.0,103.8 280.0,103.1 281.0,102.6 282.0,102.4 283.0,102.1 283.2,101.3 284.0,101.2 285.0,102.0 286.0,102.2 287.0,102.2 288.0,101.9 289.0,101.2 290.0,100.0 291.0,99.3 291.3,99.4 292.0,99.6 293.0,100.2 294.0,101.5 295.0,100.9 296.0,101.0 296.3,100.6 297.0,101.2 298.0,102.2 299.0,102.7 300.0,103.3 301.0,103.6 302.0,105.1 303.0,105.4 304.0,105.0 305.0,105.6 306.0,106.7 307.0,106.2 308.0,106.3 309.0,106.5 310.0,106.2 311.0,106.0 312.0,105.8 313.0,106.0 314.0,106.2 315.0,106.7 316.0,106.5 317.0,106.1 318.0,106.5 319.0,106.3 320.0,105.8 321.0,106.3 322.0,106.7 323.0,106.2 324.0,106.7 325.0,106.3 326.0,106.5 327.0,106.1 328.0,107.3 329.0,106.7 330.0,107.0 331.0,106.4 332.0,106.1 333.0,107.0 334.0,106.3 335.0,107.1 336.0,106.5 337.0,107.1 338.0,106.3 339.0,105.9 340.0,106.7 341.0,106.3 342.0,106.2 343.0,106.4 344.0,105.5 345.0,105.2 346.0,105.1 347.0,103.2 348.0,101.4 349.0,96.9 349.5,94.7 350.0,94.2 351.0,92.7 351.1,92.9 352.0,94.1 352.8,94.4 353.0,95.4 354.0,98.8 354.5,101.1 355.0,102.6 356.0,105.2 357.0,105.2 358.0,105.9 359.0,106.2 360.0,107.0 361.0,106.3 362.0,107.0 363.0,105.5 364.0,106.2 365.0,106.1 366.0,106.1 367.0,106.0 368.0,106.2 369.0,106.7 370.0,106.1 371.0,106.6 372.0,106.2 373.0,106.3 374.0,105.4 375.0,106.3 376.0,106.5 377.0,105.9 378.0,106.2 379.0,106.1 380.0,107.2 381.0,106.1 382.0,106.1 383.0,105.4 384.0,105.8 385.0,106.3 386.0,105.8 386.5,105.3"/>
<polyline stroke="#0000ff" points="226.0,90.7 227.0,90.9 228.0,90.5 229.0,89.6 230.0,89.4 231.0,88.8 232.0,88.7 233.0,88.0 234.0,87.8 235.0,86.4 236.0,87.0 237.0,83.5 238.0,80.7 238.5,79.0 239.0,74.9 240.0,67.2 240.5,63.3 241.0,60.9 241.8,57.7 242.0,58.4 243.0,59.4 243.2,59.5 244.0,67.5 244.5,71.8 245.0,78.3 245.5,85.7 246.0,87.3 247.0,89.9 248.0,89.8 249.0,90.4 250.0,90.7 251.0,90.4 252.0,90.2 253.0,90.7 254.0,90.8 255.0,90.5 256.0,90.8 257.0,90.9 258.0,90.4 259.0,90.2 260.0,90.6 261.0,90.5 262.0,90.8 263.0,90.0 264.0,90.3 265.0,90.3 266.0,90.0 267.0,90.7 268.0,90.9 269.0,90.5 270.0,91.3 271.0,91.0 272.0,90.9 273.0,90.8 274.0,90.9 275.0,90.1 276.0,90.7 277.0,90.5 278.0,89.4 279.0,89.9 280.0,89.5 280.2,89.8 281.0,88.4 282.0,87.4 282.4,87.1 283.0,87.4 284.0,89.1 285.0,90.0 286.0,88.8 287.0,87.2 288.0,86.4 289.0,84.5 290.0,82.4 291.0,82.0 291.9,81.5 292.0,81.8 293.0,81.8 294.0,83.8 295.0,85.1 296.0,86.3 297.0,87.3 297.3,88.5 298.0,87.6 299.0,88.2 300.0,88.5 301.0,87.0 302.0,86.9 303.0,86.1 303.9,86.2 304.0,86.7 305.0,87.7 306.0,87.1 307.0,88.3 308.0,89.0 309.0,89.6 310.0,89.4 311.0,89.3 312.0,89.9 313.0,89.9 314.0,89.9 315.0,89.8 316.0,90.2 317.0,90.3 318.0,90.2 319.0,90.2 320.0,90.0 321.0,90.3 322.0,90.9 323.0,90.5 324.0,90.1 325.0,91.1 326.0,90.8 327.0,91.4 328.0,90.7 329.0,90.6 330.0,90.3 331.0,91.2 332.0,91.7 333.0,90.5 334.0,90.5 335.0,90.9 336.0,90.4 337.0,90.6 338.0,90.5 339.0,90.7 340.0,91.0 341.0,90.6 342.0,90.9 343.0,90.4 344.0,90.6 345.0,89.8 346.0,90.0 347.0,90.7 348.0,90.2 349.0,90.6 350.0,90.6 351.0,90.4 352.0,89.7 353.0,89.3 354.0,88.5 355.0,84.5 356.0,80.7 357.0,77.9 357.7,75.6 358.0,76.3 359.0,78.1 359.5,79.1 360.0,80.6 361.0,83.6 361.5,86.0 362.0,86.6 363.0,88.0 364.0,88.9 364.3,88.8 365.0,88.9 366.0,90.1 367.0,89.8 368.0,90.4 369.0,90.7 370.0,89.9 371.0,90.4 372.0,90.4 373.0,90.5 374.0,90.5 375.0,90.4 376.0,90.4 377.0,89.9 378.0,90.4 379.0,90.2 380.0,90.5 381.0,90.3 382.0,90.7 383.0,90.8 384.0,90.6 385.0,90.6 386.0,90.5 386.5,90.3"/>
<polyline stroke="#00c800" points="226.0,74.5 227.0,74.8 228.0,74.7 229.0,74.6 230.0,74.9 231.0,73.8 232.0,74.0 233.0,73.8 234.0,74.3 235.0,74.7 236.0,74.4 237.0,74.7 238.0,73.7 239.0,74.3 240.0,73.8 241.0,74.6 242.0,74.1 243.0,73.9 243.4,73.5 244.0,70.2 244.5,67.2 245.0,62.3 245.6,56.8 246.0,54.1 247.0,46.8 248.0,43.9 248.3,43.2 249.0,44.8 249.8,47.3 250.0,47.9 251.0,56.3 252.0,63.5 252.3,65.8 253.0,68.7 254.0,73.6 255.0,73.7 256.0,73.9 257.0,73.7 258.0,73.9 259.0,74.6 260.0,74.1 261.0,73.8 262.0,74.4 263.0,74.0 264.0,74.3 265.0,74.3 266.0,74.0 267.0,73.5 268.0,74.0 269.0,74.4 270.0,74.1 271.0,74.3 272.0,74.5 273.0,73.9 274.0,74.5 275.0,74.6 276.0,74.3 277.0,74.3 278.0,74.3 279.0,74.6 280.0,73.9 281.0,73.6 282.0,73.6 283.0,72.8 284.0,72.4 285.0,72.4 286.0,72.6 287.0,71.8 288.0,70.2 289.0,69.2 290.0,68.9 291.0,67.5 292.0,66.2 292.5,65.7 293.0,65.5 294.0,64.3 294.7,63.8 295.0,63.6 296.0,64.8 297.0,66.6 298.0,68.5 299.0,70.4 299.5,71.2 300.0,71.8 301.0,73.0 301.3,72.4 302.0,72.8 303.0,73.3 304.0,73.4 305.0,72.3 306.0,72.9 307.0,71.6 308.0,70.9 309.0,70.3 309.3,70.3 310.0,70.3 311.0,72.2 312.0,73.0 313.0,72.8 314.0,73.0 315.0,72.4 316.0,73.0 317.0,73.4 318.0,73.1 319.0,73.3 320.0,73.4 321.0,73.6 322.0,74.0 323.0,73.6 324.0,73.6 325.0,73.9 326.0,74.5 327.0,73.7 328.0,74.1 329.0,73.4 330.0,74.5 331.0,74.2 332.0,74.4 333.0,73.9 334.0,73.5 335.0,74.2 336.0,74.1 337.0,73.5 338.0,73.2 339.0,73.9 340.0,73.6 341.0,74.6 342.0,73.5 343.0,73.5 344.0,73.6 345.0,73.1 346.0,73.3 347.0,74.2 348.0,73.6 349.0,73.4 350.0,73.2 351.0,73.8 352.0,73.8 353.0,73.6 354.0,73.4 355.0,73.6 356.0,73.6 357.0,72.8 358.0,72.7 359.0,71.3 360.0,69.5 361.0,67.9 361.5,67.0 362.0,65.4 363.0,63.6 364.0,61.5 364.3,60.6 365.0,61.3 366.0,62.7 366.5,63.1 367.0,63.8 368.0,66.5 369.0,69.5 370.0,70.0 371.0,71.9 371.8,72.9 372.0,72.7 373.0,72.8 374.0,73.2 375.0,73.1 376.0,72.8 376.5,72.1 377.0,72.7 378.0,73.3 379.0,73.9 380.0,74.2 381.0,74.3 382.0,74.4 383.0,74.3 384.0,73.8 385.0,74.1 386.0,73.8 386.3,73.3"/>
<polyline stroke="#9c6208" points="226.0,58.6 227.0,56.8 228.0,58.2 229.0,57.8 230.0,58.1 231.0,57.7 232.0,58.1 233.0,57.4 234.0,57.1 235.0,57.3 236.0,57.2 237.0,56.5 238.0,56.2 239.0,56.3 240.0,56.6 241.0,56.5 242.0,56.9 243.0,56.2 244.0,57.3 245.0,56.4 246.0,56.5 246.6,55.8 247.0,55.2 248.0,52.0 248.5,50.1 249.0,48.0 250.0,42.2 250.5,40.4 251.0,36.7 252.0,31.8 252.3,30.4 253.0,28.3 253.9,25.8 254.0,25.9 255.0,29.3 255.5,31.4 256.0,34.3 257.0,39.8 257.9,44.8 258.0,45.8 259.0,49.1 260.0,53.5 260.2,54.2 261.0,55.5 262.0,56.2 263.0,57.2 264.0,57.1 265.0,56.8 266.0,57.3 267.0,57.7 268.0,57.2 269.0,57.5 270.0,57.3 271.0,57.6 272.0,57.5 273.0,57.6 274.0,57.4 275.0,57.8 276.0,57.1 277.0,57.1 278.0,57.0 279.0,57.4 280.0,57.0 281.0,56.9 282.0,57.3 283.0,57.4 284.0,57.1 285.0,55.9 286.0,56.5 287.0,55.8 288.0,55.2 289.0,54.9 290.0,52.8 291.0,49.3 291.5,47.7 292.0,46.5 293.0,42.8 293.5,41.0 294.0,40.3 295.0,39.7 295.5,39.5 296.0,39.6 297.0,41.5 297.5,43.4 298.0,45.0 299.0,48.1 299.5,49.6 300.0,50.7 301.0,52.0 302.0,53.9 303.0,55.0 304.0,54.8 305.0,55.5 306.0,55.4 307.0,55.6 308.0,56.0 309.0,55.0 310.0,55.4 311.0,55.4 312.0,55.3 313.0,55.5 314.0,55.0 315.0,54.0 315.7,54.2 316.0,54.1 317.0,54.5 318.0,55.9 319.0,55.2 320.0,56.1 321.0,55.6 322.0,56.1 323.0,55.7 324.0,55.5 325.0,55.3 326.0,55.5 327.0,54.6 328.0,54.5 329.0,54.7 330.0,55.9 331.0,55.6 332.0,55.6 333.0,55.8 334.0,56.7 335.0,55.7 336.0,56.0 337.0,55.7 338.0,55.5 339.0,55.3 340.0,55.5 341.0,55.6 342.0,55.1 343.0,56.8 344.0,56.3 345.0,56.0 346.0,55.8 347.0,55.5 348.0,56.0 349.0,55.5 350.0,55.7 351.0,55.1 352.0,55.8 353.0,56.5 354.0,55.7 355.0,56.2 356.0,56.0 357.0,56.3 358.0,56.1 359.0,55.6 360.0,55.3 361.0,55.4 362.0,55.0 363.0,54.5 364.0,54.7 365.0,53.5 366.0,51.9 367.0,51.0 368.0,50.4 369.0,48.1 369.5,47.0 370.0,47.4 371.0,45.5 371.5,44.3 372.0,45.1 373.0,46.4 373.5,47.6 374.0,48.7 375.0,49.4 376.0,52.4 377.0,52.6 378.0,54.1 379.0,55.2 380.0,55.4 381.0,55.5 382.0,55.8 383.0,55.6 384.0,56.4 385.0,56.9 386.0,57.1 386.5,57.8"/>
<polyline stroke="#ff3b3b" points="226.0,42.2 227.0,41.7 228.0,41.5 229.0,41.1 230.0,42.1 231.0,42.7 232.0,42.3 233.0,42.4 234.0,42.4 235.0,41.6 236.0,42.8 237.0,41.4 238.0,41.7 239.0,42.6 240.0,41.7 241.0,41.8 242.0,41.7 243.0,42.1 244.0,41.3 245.0,41.7 246.0,42.4 247.0,41.8 248.0,41.5 249.0,41.7 250.0,41.6 251.0,41.5 251.1,41.6 252.0,39.7 253.0,39.3 253.5,38.3 254.0,37.9 255.0,35.8 255.7,34.3 256.0,33.6 257.0,30.0 258.0,27.4 259.0,24.1 260.0,21.6 260.2,20.3 261.0,22.7 262.0,23.9 263.0,29.0 264.0,33.3 265.0,34.5 266.0,36.8 267.0,38.4 267.7,40.0 268.0,40.5 269.0,40.8 270.0,41.4 271.0,41.1 272.0,42.1 273.0,42.2 274.0,42.5 275.0,41.9 276.0,42.3 277.0,42.3 278.0,41.7 279.0,41.9 280.0,42.5 281.0,41.8 282.0,41.6 283.0,42.2 284.0,41.9 285.0,41.6 286.0,41.5 287.0,41.0 288.0,40.6 289.0,40.2 290.0,40.1 291.0,39.3 292.0,37.4 292.5,37.0 293.0,35.7 294.0,32.8 294.5,32.1 295.0,31.8 296.0,30.2 297.0,32.1 297.5,32.3 298.0,34.0 299.0,36.3 299.5,36.9 300.0,37.0 301.0,39.0 302.0,40.0 303.0,40.3 304.0,40.9 305.0,41.7 306.0,41.5 307.0,41.5 308.0,41.0 309.0,41.4 310.0,41.2 311.0,41.9 312.0,41.6 313.0,41.8 314.0,41.9 315.0,41.9 316.0,42.3 317.0,42.2 318.0,42.0 319.0,42.2 320.0,42.4 321.0,42.6 322.0,42.1 323.0,42.5 324.0,41.7 325.0,41.8 326.0,41.3 327.0,42.0 328.0,41.3 329.0,41.2 330.0,41.8 331.0,41.4 332.0,41.3 333.0,42.0 334.0,41.6 335.0,42.1 336.0,41.7 337.0,42.1 338.0,42.3 339.0,42.0 340.0,42.6 341.0,41.9 342.0,42.0 343.0,42.1 344.0,42.5 345.0,42.0 346.0,42.0 347.0,42.3 348.0,42.7 349.0,42.1 350.0,41.9 351.0,42.2 352.0,42.5 353.0,42.0 354.0,42.2 355.0,41.5 356.0,42.1 357.0,42.1 358.0,42.3 359.0,42.1 360.0,42.3 361.0,41.6 362.0,42.1 363.0,41.2 364.0,41.5 365.0,42.0 366.0,41.8 367.0,40.5 368.0,41.0 369.0,40.2 370.0,39.7 371.0,39.4 372.0,38.7 373.0,38.5 374.0,36.5 375.0,35.9 376.0,35.0 377.0,33.6 378.0,33.8 378.3,33.8 379.0,33.9 380.0,35.5 380.5,35.9 381.0,37.1 382.0,38.8 383.0,41.3 383.7,42.0 384.0,42.6 385.0,41.2 386.0,40.9 386.5,39.0"/>
</g>
<g stroke="#000" stroke-width="1.1">
<line x1="226.1" y1="114.2" x2="226.1" y2="109.7"/>
<line x1="265.2" y1="114.2" x2="265.2" y2="109.7"/>
<line x1="304.4" y1="114.2" x2="304.4" y2="109.7"/>
<line x1="343.5" y1="114.2" x2="343.5" y2="109.7"/>
<line x1="382.7" y1="114.2" x2="382.7" y2="109.7"/>
<line x1="225.1" y1="107.2" x2="229.6" y2="107.2"/>
<line x1="225.1" y1="86.8" x2="229.6" y2="86.8"/>
<line x1="225.1" y1="66.5" x2="229.6" y2="66.5"/>
<line x1="225.1" y1="46.1" x2="229.6" y2="46.1"/>
<line x1="225.1" y1="25.8" x2="229.6" y2="25.8"/>
</g>
<g font-family="'Liberation Serif', 'Times New Roman', serif" font-weight="bold" fill="#000" font-size="9.6" stroke="#000" stroke-width="0.25" stroke-linejoin="round">
<text x="226.1" y="127.2" text-anchor="middle">34</text>
<text x="265.2" y="127.2" text-anchor="middle">35</text>
<text x="304.4" y="127.2" text-anchor="middle">36</text>
<text x="343.5" y="127.2" text-anchor="middle">37</text>
<text x="382.7" y="127.2" text-anchor="middle">38</text>
<text x="223.8" y="110.5" text-anchor="end">0</text>
<text x="223.8" y="90.1" text-anchor="end">5</text>
<text x="223.8" y="69.8" text-anchor="end">10</text>
<text x="223.8" y="49.4" text-anchor="end">15</text>
<text x="223.8" y="29.1" text-anchor="end">20</text>
<text x="256.5" y="19.6" text-anchor="middle">(107)</text>
<text x="297.6" y="28.6" text-anchor="middle">(200)</text>
<text x="376" y="29.8" text-anchor="middle">(203)</text>
<text x="318.3" y="37.6" font-size="10.2" textLength="27" lengthAdjust="spacingAndGlyphs"><tspan font-style="italic">x</tspan> = 2.0</text>
<text x="318.3" y="52.7" font-size="10.2" textLength="27" lengthAdjust="spacingAndGlyphs"><tspan font-style="italic">x</tspan> = 1.5</text>
<text x="318.4" y="69.6" font-size="10.2" textLength="27" lengthAdjust="spacingAndGlyphs"><tspan font-style="italic">x</tspan> = 1.0</text>
<text x="316.2" y="86.1" font-size="10.2" textLength="27" lengthAdjust="spacingAndGlyphs"><tspan font-style="italic">x</tspan> = 0.5</text>
<text x="316.6" y="103.2" font-size="10.2" textLength="27" lengthAdjust="spacingAndGlyphs"><tspan font-style="italic">x</tspan> = 0.0</text>
</g>
</svg></body></html>
